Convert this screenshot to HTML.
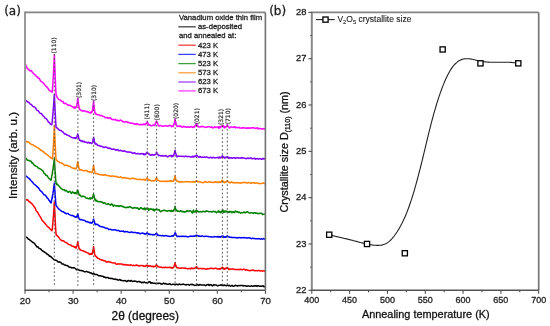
<!DOCTYPE html>
<html><head><meta charset="utf-8"><title>XRD and crystallite size</title>
<style>
html,body{margin:0;padding:0;background:#fff;}
body{width:550px;height:326px;overflow:hidden;}
svg{display:block;font-family:"Liberation Sans",Arial,sans-serif;filter:blur(0.35px);}
text{paint-order:stroke;stroke-width:0.3px;stroke:#222;stroke-linejoin:round;}
.pk text{stroke-width:0.2px;}
</style></head>
<body>
<svg width="550" height="326" viewBox="0 0 550 326">
<rect width="550" height="326" fill="#fff"/>
<g fill="none" stroke-width="1.5" stroke-linejoin="round" stroke-linecap="round">
<path d="M25.0,236.74 25.5,237.03 26.0,237.14 26.5,237.26 27.0,237.55 27.5,237.94 28.0,238.69 28.5,239.29 29.0,239.31 29.5,239.56 30.0,240.21 30.5,240.69 31.0,240.87 31.5,241.10 32.0,241.76 32.5,242.28 33.0,242.45 33.5,242.74 34.0,243.07 34.5,243.50 35.0,244.18 35.5,244.92 36.0,245.57 36.5,246.32 37.0,246.90 37.5,246.89 38.0,246.87 38.5,247.53 39.0,248.33 39.5,248.57 40.0,248.63 40.5,248.96 41.0,249.33 41.5,249.90 42.0,250.51 42.5,250.70 43.0,251.12 43.5,251.63 44.0,251.77 44.5,252.08 45.0,252.54 45.5,252.73 46.0,252.90 46.5,253.60 47.0,254.09 47.5,254.15 48.0,254.66 48.5,255.04 49.0,255.45 49.5,256.27 50.0,256.39 50.5,256.25 51.0,256.79 51.5,257.40 52.0,257.79 52.5,258.23 53.0,258.64 53.5,259.24 54.0,259.64 54.5,259.65 55.0,259.86 55.5,260.20 56.0,260.38 56.5,260.47 57.0,260.77 57.5,261.36 58.0,262.00 58.5,262.11 59.0,261.78 59.5,262.01 60.0,262.35 60.5,262.28 61.0,262.63 61.5,263.37 62.0,263.96 62.5,264.10 63.0,263.98 63.5,264.08 64.0,264.59 64.5,265.06 65.0,265.01 65.5,265.09 66.0,265.44 66.5,265.60 67.0,265.59 67.5,265.68 68.0,266.00 68.5,266.45 69.0,266.95 69.5,267.13 70.0,267.15 70.5,267.30 71.0,267.49 71.5,267.77 72.0,267.93 72.5,267.87 73.0,267.83 73.5,267.92 74.0,267.71 74.5,267.75 75.0,268.26 75.5,268.65 76.0,269.32 76.5,269.78 77.0,269.41 77.5,269.31 78.0,269.77 78.5,270.02 79.0,270.02 79.5,270.19 80.0,270.56 80.5,270.57 81.0,270.39 81.5,270.59 82.0,270.74 82.5,270.78 83.0,270.97 83.5,271.23 84.0,271.60 84.5,271.76 85.0,271.65 85.5,271.64 86.0,271.54 86.5,271.33 87.0,271.62 87.5,271.91 88.0,271.95 88.5,272.17 89.0,272.31 89.5,272.53 90.0,272.78 90.5,273.04 91.0,272.99 91.5,272.97 92.0,273.68 92.5,274.06 93.0,273.80 93.5,273.71 94.0,273.76 94.5,274.00 95.0,274.39 95.5,274.46 96.0,274.43 96.5,274.48 97.0,274.50 97.5,274.85 98.0,275.42 98.5,275.69 99.0,275.82 99.5,275.76 100.0,275.63 100.5,275.75 101.0,275.97 101.5,276.19 102.0,276.32 102.5,276.29 103.0,276.24 103.5,276.73 104.0,277.31 104.5,277.10 105.0,277.00 105.5,277.62 106.0,277.84 106.5,277.49 107.0,277.50 107.5,277.51 108.0,277.59 108.5,278.11 109.0,278.36 109.5,278.26 110.0,278.30 110.5,278.47 111.0,278.51 111.5,278.43 112.0,278.29 112.5,278.56 113.0,279.08 113.5,279.11 114.0,279.11 114.5,279.15 115.0,279.05 115.5,279.21 116.0,279.46 116.5,279.45 117.0,279.46 117.5,279.75 118.0,280.09 118.5,280.14 119.0,279.92 119.5,279.57 120.0,279.60 120.5,280.20 121.0,280.43 121.5,280.29 122.0,280.42 122.5,280.64 123.0,280.76 123.5,280.66 124.0,280.63 124.5,280.66 125.0,280.52 125.5,280.73 126.0,281.03 126.5,281.28 127.0,281.61 127.5,281.34 128.0,280.54 128.5,280.43 129.0,280.85 129.5,280.89 130.0,281.08 130.5,281.17 131.0,280.59 131.5,280.50 132.0,281.12 132.5,281.40 133.0,281.38 133.5,281.35 134.0,281.10 134.5,281.03 135.0,281.25 135.5,281.17 136.0,281.22 136.5,281.69 137.0,281.95 137.5,281.85 138.0,281.63 138.5,281.53 139.0,281.54 139.5,281.72 140.0,281.94 140.5,282.02 141.0,282.24 141.5,282.67 142.0,282.71 142.5,282.35 143.0,282.42 143.5,282.52 144.0,282.24 144.5,282.04 145.0,282.32 145.5,282.71 146.0,282.71 146.5,282.63 147.0,282.78 147.5,283.01 148.0,282.62 148.5,282.10 149.0,282.08 149.5,281.79 150.0,281.68 150.5,282.54 151.0,283.28 151.5,283.05 152.0,282.61 152.5,282.82 153.0,283.32 153.5,283.36 154.0,283.21 154.5,283.22 155.0,283.37 155.5,283.59 156.0,283.61 156.5,283.34 157.0,283.19 157.5,283.31 158.0,283.47 158.5,283.50 159.0,283.28 159.5,283.31 160.0,283.35 160.5,283.45 161.0,284.10 161.5,284.21 162.0,283.84 162.5,283.89 163.0,283.57 163.5,283.11 164.0,283.47 164.5,283.82 165.0,283.69 165.5,283.52 166.0,283.63 166.5,283.97 167.0,284.27 167.5,284.20 168.0,284.23 168.5,284.34 169.0,284.03 169.5,283.61 170.0,283.73 170.5,284.41 171.0,284.73 171.5,284.62 172.0,284.49 172.5,284.34 173.0,284.25 173.5,284.16 174.0,284.17 174.5,284.47 175.0,284.79 175.5,284.67 176.0,284.31 176.5,284.10 177.0,284.34 177.5,284.81 178.0,284.78 178.5,284.47 179.0,284.20 179.5,284.10 180.0,284.42 180.5,284.67 181.0,284.48 181.5,284.37 182.0,284.45 182.5,284.32 183.0,284.10 183.5,284.17 184.0,284.43 184.5,284.61 185.0,284.59 185.5,284.88 186.0,285.08 186.5,284.68 187.0,284.46 187.5,284.63 188.0,284.56 188.5,284.47 189.0,284.95 189.5,285.28 190.0,284.88 190.5,284.48 191.0,284.45 191.5,284.51 192.0,284.29 192.5,284.45 193.0,284.84 193.5,284.85 194.0,285.16 194.5,285.39 195.0,285.16 195.5,285.26 196.0,285.40 196.5,284.96 197.0,284.46 197.5,284.40 198.0,284.89 198.5,285.41 199.0,285.22 199.5,284.64 200.0,284.47 200.5,284.70 201.0,284.91 201.5,284.95 202.0,285.02 202.5,285.03 203.0,284.92 203.5,284.95 204.0,285.03 204.5,285.08 205.0,285.40 205.5,285.69 206.0,285.46 206.5,284.91 207.0,284.65 207.5,284.68 208.0,284.40 208.5,284.55 209.0,285.24 209.5,285.41 210.0,284.95 210.5,284.60 211.0,284.72 211.5,285.01 212.0,285.56 212.5,285.92 213.0,285.46 213.5,284.86 214.0,284.78 214.5,285.03 215.0,285.03 215.5,284.93 216.0,284.98 216.5,285.13 217.0,285.58 217.5,285.89 218.0,285.69 218.5,285.41 219.0,285.39 219.5,285.33 220.0,285.19 220.5,285.04 221.0,284.78 221.5,284.93 222.0,285.40 222.5,285.50 223.0,285.60 223.5,285.51 224.0,285.01 224.5,285.03 225.0,285.47 225.5,285.57 226.0,285.59 226.5,285.77 227.0,285.56 227.5,285.10 228.0,285.24 228.5,285.72 229.0,285.55 229.5,285.31 230.0,285.79 230.5,286.14 231.0,286.02 231.5,285.67 232.0,285.36 232.5,285.66 233.0,286.19 233.5,286.20 234.0,286.02 234.5,285.77 235.0,285.45 235.5,285.24 236.0,285.54 236.5,285.80 237.0,285.71 237.5,285.95 238.0,285.89 238.5,285.50 239.0,285.47 239.5,285.63 240.0,285.69 240.5,285.59 241.0,285.53 241.5,285.54 242.0,285.39 242.5,285.40 243.0,285.85 243.5,285.96 244.0,285.65 244.5,285.66 245.0,285.66 245.5,285.74 246.0,286.03 246.5,286.19 247.0,286.26 247.5,286.08 248.0,286.02 248.5,285.95 249.0,285.92 249.5,286.12 250.0,286.22 250.5,286.25 251.0,286.05 251.5,285.82 252.0,285.98 252.5,286.30 253.0,286.32 253.5,286.07 254.0,285.83 254.5,285.83 255.0,286.02 255.5,285.79 256.0,285.60 256.5,286.16 257.0,286.37 257.5,285.88 258.0,285.70 258.5,285.81 259.0,285.98 259.5,286.19 260.0,286.09 260.5,286.15 261.0,286.35 261.5,286.34 262.0,286.30 262.5,286.06 263.0,285.73 263.5,286.04 264.0,286.69 264.5,286.69 265.0,286.52" stroke="#000000"/>
<path d="M25.0,198.71 25.5,199.02 26.0,199.51 26.5,199.90 27.0,199.79 27.5,199.80 28.0,200.20 28.5,200.79 29.0,201.58 29.5,202.03 30.0,202.06 30.5,202.33 31.0,203.11 31.5,203.61 32.0,203.77 32.5,204.39 33.0,205.19 33.5,205.88 34.0,206.49 34.5,207.15 35.0,207.91 35.5,209.01 36.0,210.35 36.5,211.18 37.0,211.65 37.5,212.14 38.0,212.85 38.5,213.88 39.0,214.90 39.5,215.72 40.0,216.40 40.5,217.10 41.0,218.00 41.5,219.02 42.0,220.10 42.5,220.87 43.0,221.16 43.5,221.58 44.0,222.27 44.5,222.85 45.0,223.46 45.5,224.08 46.0,224.68 46.5,225.38 47.0,225.96 47.5,226.42 48.0,226.82 48.5,227.16 49.0,227.66 49.5,228.28 50.0,228.90 50.4,229.41 50.5,229.41 50.6,229.40 50.9,229.65 51.0,229.68 51.1,229.85 51.4,230.02 51.5,230.00 51.6,230.37 51.9,230.74 52.0,230.73 52.1,229.84 52.4,227.74 52.5,226.76 52.6,225.31 52.9,222.64 53.0,221.45 53.1,219.57 53.4,216.48 53.5,215.22 53.6,213.03 53.9,209.41 54.0,207.87 54.1,205.52 54.4,202.10 54.5,204.49 54.6,207.83 54.9,213.30 55.0,215.31 55.1,218.55 55.4,223.73 55.5,225.64 55.6,228.06 55.9,231.82 56.0,233.44 56.1,234.83 56.4,235.16 56.5,234.95 56.6,234.98 56.9,235.53 57.0,235.46 57.5,235.81 58.0,236.58 58.5,237.11 59.0,237.58 59.5,238.44 60.0,239.18 60.5,239.51 61.0,239.97 61.5,240.64 62.0,240.88 62.5,240.79 63.0,240.76 63.5,240.85 64.0,241.22 64.5,241.74 65.0,242.07 65.5,242.36 66.0,242.61 66.5,242.70 67.0,243.04 67.5,243.56 68.0,243.96 68.5,244.29 69.0,244.44 69.5,244.61 70.0,244.85 70.5,244.88 71.0,245.13 71.5,245.73 72.0,246.14 72.5,246.20 73.0,246.22 73.5,246.48 73.8,246.66 74.0,246.52 74.0,246.43 74.3,246.89 74.5,247.34 74.5,247.28 74.8,247.17 75.0,247.33 75.0,247.20 75.3,246.91 75.5,247.21 75.5,247.63 75.8,247.89 76.0,248.10 76.0,248.01 76.3,247.56 76.5,247.12 76.5,246.97 76.8,246.06 77.0,245.39 77.0,245.54 77.3,244.53 77.5,243.26 77.5,242.85 77.8,241.78 78.0,243.08 78.0,243.36 78.3,244.73 78.5,245.55 78.5,245.71 78.8,247.05 79.0,248.06 79.0,248.13 79.3,248.44 79.5,248.83 79.5,249.10 79.8,249.10 80.0,249.20 80.0,249.60 80.3,249.89 80.5,249.84 81.0,250.05 81.5,250.37 82.0,250.64 82.5,250.81 83.0,250.78 83.5,250.92 84.0,251.26 84.5,251.54 85.0,251.90 85.5,252.05 86.0,252.09 86.5,252.33 87.0,252.68 87.5,252.94 88.0,252.97 88.5,253.22 89.0,253.86 89.5,254.39 89.6,254.29 89.8,253.99 90.0,254.01 90.1,254.16 90.3,253.96 90.5,253.78 90.6,253.98 90.8,254.10 91.0,253.84 91.1,253.60 91.3,253.84 91.5,254.17 91.6,254.18 91.8,254.24 92.0,254.27 92.1,254.12 92.3,253.39 92.5,252.79 92.6,252.25 92.8,250.98 93.0,250.32 93.1,250.00 93.3,248.40 93.5,247.25 93.6,246.65 93.8,248.53 94.0,249.52 94.1,249.87 94.3,251.36 94.5,252.68 94.6,253.68 94.8,254.67 95.0,254.93 95.1,255.44 95.3,256.09 95.5,255.86 95.6,255.84 95.8,256.26 96.0,256.42 96.1,256.35 96.5,256.74 97.0,257.58 97.5,258.16 98.0,258.40 98.5,258.46 99.0,258.53 99.5,258.97 100.0,259.38 100.5,259.68 101.0,259.91 101.5,259.80 102.0,259.83 102.5,260.19 103.0,260.40 103.5,260.51 104.0,260.69 104.5,260.67 105.0,260.81 105.5,261.36 106.0,261.74 106.5,262.03 107.0,262.22 107.5,261.85 108.0,261.50 108.5,261.58 109.0,261.79 109.5,262.06 110.0,262.14 110.5,262.12 111.0,262.30 111.5,262.44 112.0,262.67 112.5,262.85 113.0,262.88 113.5,262.95 114.0,262.96 114.5,262.88 115.0,262.91 115.5,263.40 116.0,264.04 116.5,264.27 117.0,264.16 117.5,263.91 118.0,263.86 118.5,264.07 119.0,264.05 119.5,263.94 120.0,264.00 120.5,264.07 121.0,264.10 121.5,264.09 122.0,264.05 122.5,264.42 123.0,264.85 123.5,264.68 124.0,264.55 124.5,264.75 125.0,264.74 125.5,264.53 126.0,264.70 126.5,265.00 127.0,265.01 127.5,265.11 128.0,265.20 128.5,265.02 129.0,264.93 129.5,265.13 130.0,265.17 130.5,264.85 131.0,264.82 131.5,265.13 132.0,265.42 132.5,265.64 133.0,265.53 133.5,265.28 134.0,265.38 134.5,265.40 135.0,265.38 135.5,265.47 136.0,265.22 136.5,265.04 137.0,265.19 137.5,265.25 138.0,265.44 138.5,265.76 139.0,266.00 139.5,266.11 140.0,265.77 140.5,265.44 141.0,265.47 141.5,265.52 142.0,265.64 142.5,265.86 143.0,265.71 143.2,265.61 143.4,265.95 143.5,266.10 143.7,266.10 143.9,266.16 144.0,266.19 144.2,266.25 144.4,266.37 144.5,266.32 144.7,266.25 144.9,266.07 145.0,265.83 145.2,265.90 145.4,266.04 145.5,265.96 145.7,265.95 145.9,266.15 146.0,266.00 146.2,265.45 146.4,265.23 146.5,265.46 146.7,265.46 146.9,265.28 147.0,265.28 147.2,265.20 147.4,265.43 147.5,265.40 147.7,265.66 147.9,266.27 148.0,266.36 148.2,265.98 148.4,265.83 148.5,266.00 148.7,266.18 148.9,266.11 149.0,266.11 149.2,266.21 149.4,266.09 149.5,266.05 149.7,266.00 150.0,265.81 150.5,265.92 151.0,266.28 151.5,266.49 152.0,266.35 152.5,266.16 152.8,266.40 153.0,266.77 153.2,266.79 153.5,266.57 153.8,266.51 154.0,266.62 154.2,266.47 154.5,266.27 154.8,266.44 155.0,266.65 155.2,266.51 155.5,266.13 155.8,265.72 156.0,265.32 156.2,264.80 156.5,264.60 156.8,265.43 157.0,265.65 157.2,265.66 157.5,266.01 157.8,266.53 158.0,266.82 158.2,266.63 158.5,266.45 158.8,266.68 159.0,266.92 159.5,267.13 160.0,267.32 160.5,267.32 161.0,267.16 161.5,267.06 162.0,267.41 162.5,267.75 163.0,267.59 163.5,267.37 164.0,267.49 164.5,267.56 165.0,267.29 165.5,267.27 166.0,267.52 166.5,267.54 167.0,267.44 167.5,267.44 168.0,267.46 168.5,267.48 169.0,267.39 169.5,267.30 170.0,267.54 170.5,267.66 171.0,267.47 171.1,267.53 171.3,267.62 171.5,267.49 171.6,267.44 171.8,267.54 172.0,267.98 172.1,268.40 172.3,268.24 172.5,267.86 172.6,267.76 172.8,267.72 173.0,267.79 173.1,267.78 173.3,267.44 173.5,267.34 173.6,267.35 173.8,266.96 174.0,266.45 174.1,266.01 174.3,265.49 174.5,265.17 174.6,264.81 174.8,263.92 175.0,263.11 175.1,262.67 175.3,263.93 175.5,264.64 175.6,264.83 175.8,265.63 176.0,266.10 176.1,266.13 176.3,266.57 176.5,267.09 176.6,267.34 176.8,267.57 177.0,267.78 177.1,267.67 177.3,267.67 177.5,267.98 177.6,267.83 178.0,267.59 178.5,267.83 179.0,268.25 179.5,268.29 180.0,268.11 180.5,268.17 181.0,268.20 181.5,268.08 182.0,268.12 182.5,268.11 183.0,267.99 183.5,268.03 184.0,268.16 184.5,268.16 185.0,268.07 185.5,268.21 186.0,268.45 186.5,268.51 187.0,268.60 187.5,268.68 188.0,268.78 188.5,268.76 189.0,268.48 189.5,268.40 190.0,268.57 190.5,268.89 191.0,268.72 191.5,268.08 192.0,268.09 192.5,268.53 192.8,268.72 193.0,268.64 193.2,268.53 193.5,268.58 193.8,268.60 194.0,268.58 194.2,268.40 194.5,268.11 194.8,268.10 195.0,268.14 195.2,268.10 195.5,267.81 195.8,267.48 196.0,267.31 196.2,266.94 196.5,266.50 196.8,266.77 197.0,267.32 197.2,267.87 197.5,268.13 197.8,268.26 198.0,268.44 198.2,268.48 198.5,268.52 198.8,268.73 199.0,268.77 199.5,268.57 200.0,268.47 200.5,268.54 201.0,268.51 201.5,268.54 202.0,268.70 202.5,268.70 203.0,268.61 203.5,268.56 204.0,268.68 204.5,268.73 205.0,268.83 205.5,269.07 206.0,269.14 206.5,269.18 207.0,269.00 207.5,268.62 208.0,268.61 208.5,268.77 209.0,268.78 209.5,268.71 210.0,268.49 210.5,268.32 211.0,268.29 211.5,268.31 212.0,268.53 212.5,268.57 213.0,268.52 213.5,268.68 214.0,268.66 214.5,268.34 215.0,268.18 215.5,268.19 216.0,268.18 216.5,268.56 217.0,268.92 217.5,268.82 218.0,268.70 218.3,268.64 218.5,268.71 218.6,268.78 218.8,268.83 219.0,269.10 219.1,269.25 219.3,269.05 219.5,268.77 219.6,268.70 219.8,268.81 220.0,268.91 220.1,268.95 220.3,269.06 220.5,268.92 220.6,268.51 220.8,268.49 221.0,268.66 221.1,268.46 221.3,268.12 221.5,267.91 221.6,267.85 221.8,268.03 222.0,268.32 222.1,268.01 222.3,267.20 222.5,267.28 222.6,267.59 222.8,268.00 223.0,267.98 223.1,268.03 223.2,268.49 223.3,268.60 223.4,268.39 223.5,268.11 223.6,268.07 223.7,268.14 223.8,268.27 223.9,268.65 224.0,268.80 224.1,269.04 224.2,269.40 224.3,269.18 224.4,268.86 224.5,269.06 224.6,269.13 224.7,268.76 224.8,268.62 224.9,268.62 225.0,268.71 225.2,268.79 225.4,268.41 225.5,268.35 225.7,268.57 225.9,268.57 226.0,268.63 226.2,268.50 226.4,268.35 226.5,268.20 226.7,267.71 226.9,267.49 227.0,267.60 227.2,267.50 227.4,267.76 227.5,267.62 227.7,267.92 227.9,268.43 228.0,268.43 228.2,268.63 228.4,269.28 228.5,269.27 228.7,268.84 228.9,269.15 229.0,269.61 229.2,269.47 229.4,269.16 229.5,268.99 229.7,268.93 230.0,268.94 230.5,269.06 231.0,269.20 231.5,269.12 232.0,268.94 232.5,268.92 233.0,269.01 233.5,269.05 234.0,269.26 234.5,269.53 235.0,269.55 235.5,269.52 236.0,269.50 236.5,269.43 237.0,269.37 237.5,269.44 238.0,269.48 238.5,269.48 239.0,269.68 239.5,269.61 240.0,269.37 240.5,269.35 241.0,269.45 241.5,269.54 242.0,269.66 242.5,269.78 243.0,269.46 243.5,269.16 244.0,269.22 244.5,269.34 245.0,269.75 245.5,270.15 246.0,270.01 246.5,269.66 247.0,269.86 247.5,270.32 248.0,270.28 248.5,270.21 249.0,270.56 249.5,270.86 250.0,270.69 250.5,270.39 251.0,270.38 251.5,270.37 252.0,270.14 252.5,270.07 253.0,270.18 253.5,270.22 254.0,270.35 254.5,270.73 255.0,270.91 255.5,270.60 256.0,270.46 256.5,270.62 257.0,270.84 257.5,270.91 258.0,270.66 258.5,270.40 259.0,270.31 259.5,270.56 260.0,270.91 260.5,270.89 261.0,270.74 261.5,270.84 262.0,271.07 262.5,271.14 263.0,271.04 263.5,270.88 264.0,270.71 264.5,271.01 265.0,271.51" stroke="#ff0000"/>
<path d="M25.0,174.99 25.5,175.55 26.0,176.16 26.5,176.47 27.0,176.82 27.5,177.33 28.0,177.83 28.5,178.09 29.0,178.36 29.5,178.89 30.0,179.40 30.5,179.92 31.0,180.60 31.5,181.24 32.0,181.70 32.5,182.10 33.0,182.76 33.5,183.44 34.0,183.99 34.5,184.43 35.0,184.70 35.5,185.18 36.0,185.69 36.5,186.06 37.0,186.61 37.5,187.17 38.0,187.56 38.5,187.95 39.0,188.61 39.5,189.47 40.0,190.26 40.5,190.82 41.0,191.19 41.5,191.57 42.0,192.11 42.5,192.76 43.0,193.37 43.5,194.09 44.0,194.73 44.5,194.90 45.0,195.06 45.5,195.51 46.0,196.01 46.5,196.76 47.0,197.67 47.5,198.12 48.0,198.51 48.5,199.41 49.0,200.28 49.5,200.85 50.0,201.46 50.4,202.00 50.5,202.26 50.6,202.54 50.9,202.85 51.0,202.96 51.1,202.66 51.4,201.80 51.5,201.12 51.6,200.16 51.9,199.11 52.0,198.76 52.1,198.03 52.4,196.76 52.5,196.05 52.6,195.20 52.9,194.00 53.0,193.42 53.1,192.37 53.4,190.79 53.5,190.12 53.6,188.69 53.9,186.44 54.0,185.79 54.1,184.83 54.4,183.12 54.5,184.89 54.6,187.33 54.9,190.89 55.0,192.41 55.1,194.88 55.4,198.10 55.5,199.18 55.6,201.23 55.9,204.02 56.0,204.89 56.1,205.70 56.4,205.87 56.5,205.89 56.6,206.28 56.9,206.65 57.0,206.65 57.5,207.24 58.0,208.08 58.5,208.80 59.0,209.16 59.5,209.59 60.0,209.97 60.5,210.29 61.0,210.78 61.5,211.24 62.0,211.54 62.5,211.61 63.0,211.64 63.5,211.91 64.0,212.36 64.5,212.77 65.0,213.06 65.5,213.25 66.0,213.54 66.5,213.77 67.0,213.63 67.5,213.44 68.0,213.51 68.5,213.93 69.0,214.40 69.5,214.59 70.0,214.85 70.5,215.19 71.0,215.44 71.5,215.50 72.0,215.43 72.5,215.54 73.0,215.80 73.5,216.00 73.8,216.08 74.0,216.35 74.0,216.42 74.3,216.29 74.5,216.35 74.5,216.44 74.8,216.73 75.0,216.98 75.0,216.98 75.3,216.97 75.5,216.98 75.5,217.12 75.8,217.29 76.0,217.40 76.0,217.21 76.3,216.76 76.5,216.72 76.5,217.10 76.8,216.89 77.0,216.35 77.0,215.97 77.3,215.27 77.5,215.07 77.5,215.08 77.8,214.02 78.0,214.52 78.0,214.68 78.3,216.16 78.5,217.27 78.5,217.31 78.8,217.98 79.0,218.32 79.0,218.32 79.3,218.89 79.5,219.02 79.5,219.07 79.8,219.43 80.0,219.64 80.0,219.63 80.3,219.60 80.5,219.43 81.0,219.56 81.5,219.86 82.0,219.96 82.5,219.95 83.0,220.12 83.5,220.29 84.0,220.31 84.5,220.40 85.0,220.69 85.5,221.15 86.0,221.65 86.5,221.80 87.0,221.56 87.5,221.70 88.0,222.11 88.5,222.21 89.0,222.44 89.5,222.76 89.6,222.54 89.8,222.29 90.0,222.38 90.1,222.68 90.3,222.75 90.5,222.53 90.6,222.61 90.8,222.98 91.0,223.05 91.1,222.98 91.3,223.15 91.5,223.07 91.6,222.81 91.8,222.96 92.0,223.06 92.1,222.71 92.3,222.14 92.5,222.11 92.6,222.29 92.8,221.52 93.0,220.88 93.1,220.73 93.3,219.80 93.5,219.31 93.6,219.16 93.8,220.10 94.0,220.43 94.1,220.69 94.3,221.70 94.5,221.97 94.6,222.31 94.8,223.58 95.0,224.10 95.1,224.06 95.3,224.20 95.5,224.46 95.6,224.73 95.8,224.70 96.0,224.38 96.1,224.17 96.5,224.24 97.0,224.22 97.5,224.50 98.0,224.97 98.5,225.21 99.0,225.47 99.5,225.93 100.0,226.42 100.5,226.56 101.0,226.56 101.5,226.68 102.0,226.67 102.5,226.88 103.0,227.13 103.5,227.14 104.0,227.22 104.5,227.43 105.0,227.90 105.5,228.26 106.0,228.23 106.5,228.25 107.0,228.28 107.5,228.27 108.0,228.61 108.5,229.28 109.0,229.62 109.5,229.38 110.0,229.24 110.5,229.40 111.0,229.54 111.5,229.71 112.0,229.81 112.5,229.89 113.0,229.94 113.5,229.86 114.0,229.76 114.5,229.74 115.0,229.85 115.5,229.98 116.0,230.13 116.5,230.27 117.0,230.49 117.5,230.56 118.0,230.39 118.5,230.39 119.0,230.64 119.5,231.08 120.0,231.39 120.5,231.29 121.0,231.23 121.5,231.25 122.0,231.21 122.5,231.36 123.0,231.12 123.5,231.10 124.0,231.83 124.5,231.95 125.0,231.57 125.5,231.58 126.0,231.70 126.5,231.64 127.0,231.51 127.5,231.67 128.0,231.97 128.5,232.17 129.0,232.27 129.5,232.42 130.0,232.50 130.5,232.30 131.0,232.06 131.5,231.87 132.0,232.07 132.5,232.44 133.0,232.44 133.5,232.50 134.0,232.49 134.5,232.38 135.0,232.45 135.5,232.54 136.0,232.69 136.5,232.95 137.0,232.99 137.5,232.79 138.0,232.78 138.5,232.98 139.0,233.17 139.5,233.52 140.0,233.80 140.5,233.60 141.0,233.33 141.5,233.22 142.0,233.13 142.5,233.10 143.0,233.19 143.2,233.30 143.4,233.48 143.5,233.58 143.7,233.52 143.9,233.39 144.0,233.49 144.2,233.82 144.4,234.01 144.5,234.05 144.7,234.07 144.9,233.97 145.0,233.81 145.2,234.02 145.4,234.10 145.5,233.79 145.7,233.88 145.9,233.99 146.0,233.83 146.2,233.75 146.4,233.58 146.5,233.36 146.7,233.15 146.9,232.89 147.0,232.79 147.2,232.74 147.4,233.06 147.5,233.22 147.7,233.29 147.9,233.48 148.0,233.88 148.2,234.13 148.4,234.03 148.5,233.85 148.7,233.96 148.9,234.19 149.0,234.05 149.2,233.93 149.4,234.40 149.5,234.59 149.7,234.21 150.0,234.28 150.5,234.45 151.0,234.50 151.5,234.56 152.0,234.42 152.5,234.61 152.8,234.85 153.0,234.67 153.2,234.56 153.5,234.62 153.8,234.77 154.0,234.88 154.2,234.81 154.5,234.74 154.8,234.66 155.0,234.65 155.2,234.31 155.5,233.85 155.8,233.77 156.0,233.61 156.2,233.53 156.5,233.42 156.8,233.47 157.0,233.80 157.2,234.45 157.5,234.85 157.8,235.13 158.0,235.13 158.2,235.03 158.5,235.28 158.8,235.60 159.0,235.61 159.5,235.49 160.0,235.45 160.5,235.44 161.0,235.62 161.5,235.90 162.0,235.72 162.5,235.44 163.0,235.60 163.5,235.90 164.0,235.96 164.5,235.79 165.0,235.71 165.5,235.67 166.0,235.48 166.5,235.61 167.0,235.94 167.5,236.00 168.0,236.14 168.5,236.34 169.0,236.28 169.5,236.33 170.0,236.54 170.5,236.39 171.0,236.19 171.1,236.27 171.3,236.20 171.5,236.03 171.6,236.07 171.8,235.95 172.0,235.77 172.1,235.92 172.3,236.05 172.5,235.90 172.6,235.78 172.8,235.93 173.0,236.11 173.1,236.04 173.3,235.88 173.5,235.78 173.6,235.59 173.8,235.40 174.0,235.34 174.1,234.95 174.3,234.45 174.5,234.29 174.6,233.94 174.8,233.27 175.0,233.07 175.1,232.73 175.3,232.97 175.5,233.29 175.6,233.62 175.8,234.19 176.0,234.54 176.1,234.86 176.3,235.40 176.5,235.61 176.6,235.84 176.8,236.14 177.0,236.13 177.1,236.35 177.3,236.61 177.5,236.43 177.6,236.20 178.0,236.17 178.5,236.19 179.0,236.40 179.5,236.47 180.0,236.28 180.5,236.37 181.0,236.52 181.5,236.41 182.0,236.28 182.5,236.15 183.0,236.10 183.5,236.41 184.0,236.69 184.5,236.46 185.0,236.21 185.5,236.23 186.0,236.37 186.5,236.51 187.0,236.66 187.5,236.79 188.0,236.74 188.5,236.69 189.0,236.62 189.5,236.39 190.0,236.18 190.5,236.23 191.0,236.34 191.5,236.15 192.0,236.06 192.5,236.31 192.8,236.35 193.0,236.24 193.2,236.27 193.5,236.34 193.8,236.30 194.0,236.09 194.2,236.10 194.5,236.30 194.8,236.25 195.0,236.02 195.2,235.78 195.5,235.62 195.8,235.66 196.0,235.54 196.2,235.27 196.5,235.25 196.8,235.46 197.0,235.49 197.2,235.61 197.5,235.48 197.8,235.44 198.0,235.72 198.2,236.03 198.5,236.18 198.8,236.25 199.0,236.15 199.5,236.06 200.0,236.17 200.5,236.14 201.0,236.14 201.5,236.19 202.0,236.07 202.5,236.01 203.0,236.15 203.5,236.42 204.0,236.62 204.5,236.54 205.0,236.30 205.5,236.20 206.0,236.32 206.5,236.35 207.0,236.33 207.5,236.55 208.0,236.52 208.5,236.43 209.0,236.67 209.5,236.85 210.0,236.86 210.5,236.86 211.0,236.87 211.5,237.00 212.0,237.00 212.5,236.91 213.0,236.97 213.5,236.89 214.0,236.69 214.5,236.58 215.0,236.71 215.5,236.78 216.0,236.70 216.5,236.85 217.0,236.98 217.5,236.74 218.0,236.49 218.3,236.72 218.5,236.92 218.6,236.81 218.8,236.63 219.0,236.54 219.1,236.74 219.3,236.92 219.5,236.83 219.6,236.72 219.8,236.85 220.0,237.00 220.1,236.95 220.3,236.77 220.5,236.90 220.6,237.15 220.8,236.81 221.0,236.53 221.1,236.53 221.3,236.52 221.5,236.78 221.6,236.83 221.8,236.21 222.0,235.94 222.1,236.32 222.3,236.37 222.5,236.49 222.6,236.38 222.8,236.30 223.0,236.27 223.1,236.15 223.2,236.34 223.3,236.66 223.4,236.92 223.5,237.13 223.6,236.96 223.7,236.83 223.8,237.15 223.9,237.38 224.0,237.11 224.1,236.84 224.2,237.09 224.3,237.25 224.4,237.00 224.5,236.94 224.6,237.16 224.7,237.06 224.8,236.83 224.9,236.82 225.0,236.91 225.2,237.05 225.4,237.17 225.5,237.29 225.7,237.06 225.9,236.71 226.0,236.87 226.2,237.00 226.4,236.89 226.5,236.78 226.7,236.40 226.9,236.20 227.0,236.28 227.2,235.87 227.4,235.97 227.5,236.31 227.7,236.46 227.9,236.46 228.0,236.34 228.2,236.39 228.4,236.63 228.5,236.87 228.7,236.91 228.9,236.86 229.0,237.00 229.2,236.97 229.4,236.99 229.5,237.24 229.7,237.15 230.0,237.14 230.5,237.39 231.0,237.33 231.5,237.30 232.0,237.52 232.5,237.58 233.0,237.51 233.5,237.47 234.0,237.48 234.5,237.51 235.0,237.40 235.5,237.52 236.0,237.83 236.5,237.76 237.0,237.79 237.5,238.00 238.0,237.78 238.5,237.57 239.0,237.59 239.5,237.61 240.0,237.88 240.5,237.96 241.0,237.67 241.5,237.60 242.0,237.75 242.5,237.72 243.0,237.69 243.5,237.67 244.0,237.52 244.5,237.60 245.0,237.78 245.5,237.88 246.0,237.88 246.5,237.85 247.0,237.99 247.5,237.99 248.0,237.81 248.5,237.68 249.0,237.81 249.5,238.01 250.0,238.03 250.5,238.20 251.0,238.49 251.5,238.65 252.0,238.60 252.5,238.28 253.0,238.19 253.5,238.45 254.0,238.61 254.5,238.62 255.0,238.63 255.5,238.73 256.0,238.79 256.5,238.75 257.0,238.72 257.5,238.70 258.0,238.68 258.5,238.76 259.0,238.79 259.5,238.82 260.0,238.95 260.5,238.95 261.0,238.92 261.5,238.84 262.0,238.95 262.5,239.16 263.0,238.89 263.5,238.60 264.0,238.67 264.5,239.04 265.0,239.35" stroke="#0000ff"/>
<path d="M25.0,157.75 25.5,158.14 26.0,158.24 26.5,158.86 27.0,159.84 27.5,160.24 28.0,160.13 28.5,160.44 29.0,160.64 29.5,160.59 30.0,161.00 30.5,161.06 31.0,161.16 31.5,162.24 32.0,162.98 32.5,162.83 33.0,163.25 33.5,164.33 34.0,164.95 34.5,165.49 35.0,165.83 35.5,165.83 36.0,166.16 36.5,166.42 37.0,166.65 37.5,167.04 38.0,167.62 38.5,168.22 39.0,168.35 39.5,168.39 40.0,168.77 40.5,169.12 41.0,169.23 41.5,169.64 42.0,170.21 42.5,170.64 43.0,171.09 43.5,171.97 44.0,173.23 44.5,173.81 45.0,173.78 45.5,174.37 46.0,175.29 46.5,175.46 47.0,175.55 47.5,176.16 48.0,177.05 48.5,177.83 49.0,178.54 49.5,179.11 50.0,179.23 50.4,179.30 50.5,179.57 50.6,180.01 50.9,179.93 51.0,179.86 51.1,179.97 51.4,178.89 51.5,177.76 51.6,176.69 51.9,175.42 52.0,175.20 52.1,174.49 52.4,172.78 52.5,172.04 52.6,171.07 52.9,169.58 53.0,169.50 53.1,168.44 53.4,165.90 53.5,165.15 53.6,164.44 53.9,162.56 54.0,161.58 54.1,160.32 54.4,158.71 54.5,160.73 54.6,163.26 54.9,167.27 55.0,168.92 55.1,170.91 55.4,174.43 55.5,176.33 55.6,178.53 55.9,181.46 56.0,182.84 56.1,183.53 56.4,183.11 56.5,183.36 56.6,184.46 56.9,184.77 57.0,183.98 57.5,184.16 58.0,184.96 58.5,185.54 59.0,186.07 59.5,186.77 60.0,187.07 60.5,187.63 61.0,188.45 61.5,188.64 62.0,188.96 62.5,189.60 63.0,189.81 63.5,189.69 64.0,189.64 64.5,190.06 65.0,190.84 65.5,190.76 66.0,190.29 66.5,190.69 67.0,191.30 67.5,191.77 68.0,192.32 68.5,192.21 69.0,191.65 69.5,191.39 70.0,191.47 70.5,191.96 71.0,192.84 71.5,193.44 72.0,192.68 72.5,191.79 73.0,192.21 73.5,192.67 73.8,192.47 74.0,192.51 74.0,192.91 74.3,193.25 74.5,193.11 74.5,193.07 74.8,193.38 75.0,193.26 75.0,192.87 75.3,192.73 75.5,193.10 75.5,193.34 75.8,193.11 76.0,193.46 76.0,193.85 76.3,193.55 76.5,193.06 76.5,193.04 76.8,193.16 77.0,192.88 77.0,192.01 77.3,190.48 77.5,190.10 77.5,190.96 77.8,190.50 78.0,191.17 78.0,191.13 78.3,191.76 78.5,192.41 78.5,192.83 78.8,193.52 79.0,193.92 79.0,194.69 79.3,195.39 79.5,194.80 79.5,194.62 79.8,195.17 80.0,194.89 80.0,194.67 80.3,195.53 80.5,195.84 81.0,196.16 81.5,196.82 82.0,196.56 82.5,196.17 83.0,196.26 83.5,196.18 84.0,196.43 84.5,196.87 85.0,196.89 85.5,197.29 86.0,198.09 86.5,198.32 87.0,198.23 87.5,198.24 88.0,198.48 88.5,198.69 89.0,198.79 89.5,198.81 89.6,198.27 89.8,197.85 90.0,197.79 90.1,198.15 90.3,198.90 90.5,199.06 90.6,198.59 90.8,198.43 91.0,198.38 91.1,198.11 91.3,198.15 91.5,198.23 91.6,198.15 91.8,198.53 92.0,198.63 92.1,198.17 92.3,197.41 92.5,197.47 92.6,197.75 92.8,196.92 93.0,196.69 93.1,196.32 93.3,194.62 93.5,193.93 93.6,194.32 93.8,195.71 94.0,195.68 94.1,196.15 94.3,197.73 94.5,198.62 94.6,198.99 94.8,199.34 95.0,199.33 95.1,199.71 95.3,200.46 95.5,199.82 95.6,199.18 95.8,199.78 96.0,200.62 96.1,201.00 96.5,200.75 97.0,200.73 97.5,201.36 98.0,201.68 98.5,201.60 99.0,201.76 99.5,201.76 100.0,201.58 100.5,201.71 101.0,201.75 101.5,201.94 102.0,202.25 102.5,202.32 103.0,202.92 103.5,203.29 104.0,202.90 104.5,202.72 105.0,203.10 105.5,203.67 106.0,203.98 106.5,204.14 107.0,204.17 107.5,204.01 108.0,203.80 108.5,203.83 109.0,204.36 109.5,204.56 110.0,204.63 110.5,205.12 111.0,204.67 111.5,203.89 112.0,204.11 112.5,204.64 113.0,205.65 113.5,206.17 114.0,205.49 114.5,205.16 115.0,205.34 115.5,205.63 116.0,206.04 116.5,205.98 117.0,205.79 117.5,205.93 118.0,205.76 118.5,205.98 119.0,206.52 119.5,206.27 120.0,205.68 120.5,205.57 121.0,205.85 121.5,206.35 122.0,206.49 122.5,206.20 123.0,206.50 123.5,206.95 124.0,207.02 124.5,207.25 125.0,207.52 125.5,207.47 126.0,207.44 126.5,207.71 127.0,207.51 127.5,207.03 128.0,207.32 128.5,207.42 129.0,207.07 129.5,206.72 130.0,206.61 130.5,207.01 131.0,207.48 131.5,207.57 132.0,207.67 132.5,208.24 133.0,208.32 133.5,207.89 134.0,207.67 134.5,207.55 135.0,207.57 135.5,207.89 136.0,208.22 136.5,208.08 137.0,207.84 137.5,207.97 138.0,208.19 138.5,208.82 139.0,209.47 139.5,209.19 140.0,208.39 140.5,207.80 141.0,207.62 141.5,208.04 142.0,208.65 142.5,208.73 143.0,208.66 143.2,208.71 143.4,209.11 143.5,209.35 143.7,208.89 143.9,208.55 144.0,208.76 144.2,208.96 144.4,208.56 144.5,208.11 144.7,208.01 144.9,208.32 145.0,209.41 145.2,209.89 145.4,209.30 145.5,209.22 145.7,209.03 145.9,208.46 146.0,208.51 146.2,208.51 146.4,208.72 146.5,208.87 146.7,208.24 146.9,208.22 147.0,208.43 147.2,208.09 147.4,208.53 147.5,208.84 147.7,208.91 147.9,209.10 148.0,208.78 148.2,208.60 148.4,209.70 148.5,210.44 148.7,210.20 148.9,209.61 149.0,208.97 149.2,208.91 149.4,208.97 149.5,209.22 149.7,209.54 150.0,209.32 150.5,208.97 151.0,208.81 151.5,209.24 152.0,209.56 152.5,209.36 152.8,209.73 153.0,210.15 153.2,209.53 153.5,209.08 153.8,209.60 154.0,210.59 154.2,210.99 154.5,210.32 154.8,209.60 155.0,209.68 155.2,209.76 155.5,209.53 155.8,209.78 156.0,209.67 156.2,208.95 156.5,208.62 156.8,209.29 157.0,209.49 157.2,209.42 157.5,209.79 157.8,209.82 158.0,209.76 158.2,210.12 158.5,210.11 158.8,209.68 159.0,209.47 159.5,210.10 160.0,211.27 160.5,211.71 161.0,211.46 161.5,211.13 162.0,210.71 162.5,210.65 163.0,210.64 163.5,210.23 164.0,210.23 164.5,210.59 165.0,210.52 165.5,210.44 166.0,210.74 166.5,211.02 167.0,211.20 167.5,211.01 168.0,210.79 168.5,210.85 169.0,210.73 169.5,210.55 170.0,210.77 170.5,211.24 171.0,211.54 171.1,211.20 171.3,210.45 171.5,210.37 171.6,210.72 171.8,210.81 172.0,210.67 172.1,210.78 172.3,211.13 172.5,210.89 172.6,210.74 172.8,211.35 173.0,211.39 173.1,210.99 173.3,210.83 173.5,210.73 173.6,210.78 173.8,210.21 174.0,209.60 174.1,209.41 174.3,209.08 174.5,209.06 174.6,209.00 174.8,208.30 175.0,207.14 175.1,206.34 175.3,207.35 175.5,208.05 175.6,208.86 175.8,209.94 176.0,209.95 176.1,209.75 176.3,210.10 176.5,210.28 176.6,210.24 176.8,210.32 177.0,210.67 177.1,211.20 177.3,211.35 177.5,211.27 177.6,211.07 178.0,210.94 178.5,211.06 179.0,211.34 179.5,211.50 180.0,211.19 180.5,210.74 181.0,211.00 181.5,211.55 182.0,211.30 182.5,211.28 183.0,211.89 183.5,211.99 184.0,211.56 184.5,211.64 185.0,212.16 185.5,211.99 186.0,211.57 186.5,211.12 187.0,210.55 187.5,210.70 188.0,211.39 188.5,211.61 189.0,211.22 189.5,210.73 190.0,210.68 190.5,210.86 191.0,211.10 191.5,211.84 192.0,212.71 192.5,213.03 192.8,212.35 193.0,211.38 193.2,210.52 193.5,210.04 193.8,210.71 194.0,211.62 194.2,212.06 194.5,212.12 194.8,211.91 195.0,211.76 195.2,211.89 195.5,211.66 195.8,210.82 196.0,210.23 196.2,210.38 196.5,211.09 196.8,211.62 197.0,211.17 197.2,210.77 197.5,211.01 197.8,211.31 198.0,211.43 198.2,211.61 198.5,211.73 198.8,211.78 199.0,211.97 199.5,211.89 200.0,211.62 200.5,211.53 201.0,211.68 201.5,211.89 202.0,211.83 202.5,211.71 203.0,211.36 203.5,211.27 204.0,211.60 204.5,211.63 205.0,211.87 205.5,211.71 206.0,211.02 206.5,210.98 207.0,211.22 207.5,211.12 208.0,211.29 208.5,211.76 209.0,211.87 209.5,211.77 210.0,211.72 210.5,211.64 211.0,211.52 211.5,211.71 212.0,211.98 212.5,211.80 213.0,211.39 213.5,211.30 214.0,211.68 214.5,211.87 215.0,211.59 215.5,211.53 216.0,212.29 216.5,212.74 217.0,212.18 217.5,211.91 218.0,211.49 218.3,210.90 218.5,211.20 218.6,211.78 218.8,212.11 219.0,211.78 219.1,211.39 219.3,211.57 219.5,211.68 219.6,211.57 219.8,211.38 220.0,211.20 220.1,211.56 220.3,212.37 220.5,212.74 220.6,212.39 220.8,212.08 221.0,212.22 221.1,212.43 221.3,212.39 221.5,211.93 221.6,211.41 221.8,211.12 222.0,211.02 222.1,210.99 222.3,210.59 222.5,210.12 222.6,209.75 222.8,209.99 223.0,210.30 223.1,210.86 223.2,211.02 223.3,210.88 223.4,211.58 223.5,211.97 223.6,212.04 223.7,212.60 223.8,212.44 223.9,211.80 224.0,211.96 224.1,212.17 224.2,212.18 224.3,212.07 224.4,211.58 224.5,211.27 224.6,211.22 224.7,211.33 224.8,211.34 224.9,211.04 225.0,211.24 225.2,211.81 225.4,211.94 225.5,211.56 225.7,210.97 225.9,210.95 226.0,211.34 226.2,211.43 226.4,211.51 226.5,211.76 226.7,211.62 226.9,211.37 227.0,211.49 227.2,211.45 227.4,211.54 227.5,211.82 227.7,211.90 227.9,211.74 228.0,211.75 228.2,212.07 228.4,212.41 228.5,212.39 228.7,212.30 228.9,212.29 229.0,212.32 229.2,212.38 229.4,211.74 229.5,211.38 229.7,212.05 230.0,212.00 230.5,211.49 231.0,211.50 231.5,212.00 232.0,212.71 232.5,212.29 233.0,211.63 233.5,211.88 234.0,212.37 234.5,212.52 235.0,211.63 235.5,211.08 236.0,211.67 236.5,211.95 237.0,211.54 237.5,211.39 238.0,212.28 238.5,212.58 239.0,212.07 239.5,212.24 240.0,212.74 240.5,213.17 241.0,212.91 241.5,212.58 242.0,212.86 242.5,212.70 243.0,212.44 243.5,212.52 244.0,212.09 244.5,212.12 245.0,212.89 245.5,212.69 246.0,212.35 246.5,212.33 247.0,211.86 247.5,211.77 248.0,212.15 248.5,212.45 249.0,212.89 249.5,213.12 250.0,212.93 250.5,213.05 251.0,212.98 251.5,212.64 252.0,212.63 252.5,212.85 253.0,213.29 253.5,213.39 254.0,212.89 254.5,212.60 255.0,212.76 255.5,213.01 256.0,213.28 256.5,213.15 257.0,213.09 257.5,213.61 258.0,213.64 258.5,213.47 259.0,213.65 259.5,213.46 260.0,213.30 260.5,213.33 261.0,213.17 261.5,213.21 262.0,213.73 262.5,214.45 263.0,214.46 263.5,214.18 264.0,214.27 264.5,214.12 265.0,213.93" stroke="#008000"/>
<path d="M25.0,141.00 25.5,141.39 26.0,141.76 26.5,141.61 27.0,141.59 27.5,142.00 28.0,142.16 28.5,141.99 29.0,142.11 29.5,142.88 30.0,143.51 30.5,143.78 31.0,144.17 31.5,144.44 32.0,144.56 32.5,144.71 33.0,144.81 33.5,145.17 34.0,145.74 34.5,145.89 35.0,145.96 35.5,146.39 36.0,146.70 36.5,146.96 37.0,147.39 37.5,147.56 38.0,147.62 38.5,148.22 39.0,148.85 39.5,148.99 40.0,149.40 40.5,150.00 41.0,150.20 41.5,150.27 42.0,150.67 42.5,151.27 43.0,151.66 43.5,151.74 44.0,152.07 44.5,152.82 45.0,153.36 45.5,153.50 46.0,153.72 46.5,154.19 47.0,154.72 47.5,155.07 48.0,155.32 48.5,155.82 49.0,156.26 49.5,156.62 50.0,157.18 50.4,157.53 50.5,157.57 50.6,157.60 50.9,157.61 51.0,157.81 51.1,158.11 51.4,158.34 51.5,158.30 51.6,157.96 51.9,157.94 52.0,158.32 52.1,158.74 52.4,158.98 52.5,158.70 52.6,157.08 52.9,153.84 53.0,152.11 53.1,149.81 53.4,145.95 53.5,144.07 53.6,140.98 53.9,136.02 54.0,134.00 54.1,130.74 54.4,125.31 54.5,127.30 54.6,130.88 54.9,137.37 55.0,139.90 55.1,143.08 55.4,148.27 55.5,150.15 55.6,153.03 55.9,157.48 56.0,158.89 56.1,159.84 56.4,160.11 56.5,160.26 56.6,160.37 56.9,160.38 57.0,160.26 57.5,160.95 58.0,161.55 58.5,161.57 59.0,161.82 59.5,162.40 60.0,162.79 60.5,162.78 61.0,162.77 61.5,163.06 62.0,163.21 62.5,163.49 63.0,163.95 63.5,164.26 64.0,164.85 64.5,165.41 65.0,165.38 65.5,165.19 66.0,165.10 66.5,165.16 67.0,165.36 67.5,165.58 68.0,165.77 68.5,166.05 69.0,166.30 69.5,166.35 70.0,166.39 70.5,166.73 71.0,167.25 71.5,167.63 72.0,167.97 72.5,168.11 73.0,168.11 73.5,168.13 73.8,168.27 74.0,168.76 74.0,168.79 74.3,168.38 74.5,168.26 74.5,168.26 74.8,168.14 75.0,168.34 75.0,168.70 75.3,168.72 75.5,168.72 75.5,168.76 75.8,168.68 76.0,168.68 76.0,168.63 76.3,168.31 76.5,167.92 76.5,167.91 76.8,167.25 77.0,166.46 77.0,166.19 77.3,164.75 77.5,163.50 77.5,163.02 77.8,161.54 78.0,163.11 78.0,163.48 78.3,164.89 78.5,166.10 78.5,166.31 78.8,167.51 79.0,168.47 79.0,168.48 79.3,169.10 79.5,169.80 79.5,169.89 79.8,169.63 80.0,169.41 80.0,169.27 80.3,169.53 80.5,169.91 81.0,169.96 81.5,169.87 82.0,170.21 82.5,170.57 83.0,170.45 83.5,170.48 84.0,170.82 84.5,170.87 85.0,170.71 85.5,170.53 86.0,170.41 86.5,170.57 87.0,170.90 87.5,171.22 88.0,171.55 88.5,171.78 89.0,171.91 89.5,171.93 89.6,171.61 89.8,171.50 90.0,171.72 90.1,171.86 90.3,171.99 90.5,172.04 90.6,171.93 90.8,172.02 91.0,172.30 91.1,172.38 91.3,172.41 91.5,172.52 91.6,172.42 91.8,172.30 92.0,172.47 92.1,172.51 92.3,171.72 92.5,171.33 92.6,171.18 92.8,169.86 93.0,168.91 93.1,168.50 93.3,166.91 93.5,165.74 93.6,165.19 93.8,166.91 94.0,167.82 94.1,168.48 94.3,169.98 94.5,170.47 94.6,170.86 94.8,172.20 95.0,172.90 95.1,173.03 95.3,173.29 95.5,173.51 95.6,173.77 95.8,173.76 96.0,173.48 96.1,173.46 96.5,173.49 97.0,173.40 97.5,173.76 98.0,174.17 98.5,174.12 99.0,174.17 99.5,174.58 100.0,174.85 100.5,174.78 101.0,174.58 101.5,174.74 102.0,174.94 102.5,174.79 103.0,174.83 103.5,175.29 104.0,175.40 104.5,174.85 105.0,174.48 105.5,174.68 106.0,175.04 106.5,175.41 107.0,175.64 107.5,175.57 108.0,175.54 108.5,175.61 109.0,175.64 109.5,175.72 110.0,176.10 110.5,176.58 111.0,176.45 111.5,175.98 112.0,175.91 112.5,175.95 113.0,175.93 113.5,176.06 114.0,176.38 114.5,176.64 115.0,176.57 115.5,176.38 116.0,176.31 116.5,176.47 117.0,176.76 117.5,177.04 118.0,177.18 118.5,177.19 119.0,177.34 119.5,177.38 120.0,177.11 120.5,176.82 121.0,177.02 121.5,177.63 122.0,177.90 122.5,177.84 123.0,177.77 123.5,177.65 124.0,177.57 124.5,177.73 125.0,178.02 125.5,178.06 126.0,177.92 126.5,177.98 127.0,178.18 127.5,178.15 128.0,178.20 128.5,178.50 129.0,178.49 129.5,178.49 130.0,178.76 130.5,178.76 131.0,178.60 131.5,178.50 132.0,178.33 132.5,178.15 133.0,178.26 133.5,178.53 134.0,178.56 134.5,178.67 135.0,178.66 135.5,178.60 136.0,178.84 136.5,179.10 137.0,179.38 137.5,179.56 138.0,179.50 138.5,179.37 139.0,179.31 139.5,179.42 140.0,179.44 140.5,179.35 141.0,179.42 141.5,179.54 142.0,179.67 142.5,179.69 143.0,179.56 143.2,179.59 143.4,179.64 143.5,179.41 143.7,179.62 143.9,179.76 144.0,179.33 144.2,179.46 144.4,179.72 144.5,179.82 144.7,179.93 144.9,179.73 145.0,180.03 145.2,180.40 145.4,180.13 145.5,179.87 145.7,179.65 145.9,179.45 146.0,179.44 146.2,179.13 146.4,178.97 146.5,179.04 146.7,178.58 146.9,178.25 147.0,178.21 147.2,177.96 147.4,178.59 147.5,178.56 147.7,178.54 147.9,178.92 148.0,178.99 148.2,179.26 148.4,179.60 148.5,179.73 148.7,179.98 148.9,180.15 149.0,180.24 149.2,180.36 149.4,180.32 149.5,180.14 149.7,179.97 150.0,180.05 150.5,180.41 151.0,180.82 151.5,181.04 152.0,180.93 152.5,180.63 152.8,180.51 153.0,180.55 153.2,180.69 153.5,180.91 153.8,180.78 154.0,180.40 154.2,180.46 154.5,180.78 154.8,180.64 155.0,180.37 155.2,180.17 155.5,179.66 155.8,179.10 156.0,178.46 156.2,177.93 156.5,177.64 156.8,178.11 157.0,178.54 157.2,179.21 157.5,179.84 157.8,180.22 158.0,180.29 158.2,180.35 158.5,180.48 158.8,180.57 159.0,180.82 159.5,181.02 160.0,181.19 160.5,181.45 161.0,181.39 161.5,181.24 162.0,181.15 162.5,181.18 163.0,181.42 163.5,181.35 164.0,181.14 164.5,181.33 165.0,181.53 165.5,181.53 166.0,181.33 166.5,180.96 167.0,181.12 167.5,181.59 168.0,181.42 168.5,181.12 169.0,181.25 169.5,181.15 170.0,180.75 170.5,180.59 171.0,180.88 171.1,181.29 171.3,181.39 171.5,181.37 171.6,181.49 171.8,181.34 172.0,181.00 172.1,181.04 172.3,181.07 172.5,180.99 172.6,181.13 172.8,181.25 173.0,181.13 173.1,180.97 173.3,181.11 173.5,181.19 173.6,180.59 173.8,179.82 174.0,179.81 174.1,179.78 174.3,178.86 174.5,178.23 174.6,177.96 174.8,176.85 175.0,176.08 175.1,175.83 175.3,177.02 175.5,177.80 175.6,178.17 175.8,179.01 176.0,179.53 176.1,179.84 176.3,180.35 176.5,180.30 176.6,180.47 176.8,181.10 177.0,181.16 177.1,181.23 177.3,181.38 177.5,181.35 177.6,181.51 178.0,181.53 178.5,181.31 179.0,181.77 179.5,182.19 180.0,181.89 180.5,181.75 181.0,182.02 181.5,182.03 182.0,181.68 182.5,181.62 183.0,181.78 183.5,181.87 184.0,181.93 184.5,181.89 185.0,181.78 185.5,181.71 186.0,181.62 186.5,181.61 187.0,181.73 187.5,181.69 188.0,181.76 188.5,182.05 189.0,181.87 189.5,181.70 190.0,181.90 190.5,181.91 191.0,181.93 191.5,181.98 192.0,181.98 192.5,181.92 192.8,181.83 193.0,182.08 193.2,182.11 193.5,181.68 193.8,181.75 194.0,181.91 194.2,181.61 194.5,181.71 194.8,182.05 195.0,182.01 195.2,181.94 195.5,181.65 195.8,181.23 196.0,181.05 196.2,180.93 196.5,180.74 196.8,180.87 197.0,180.99 197.2,181.32 197.5,181.72 197.8,181.74 198.0,181.52 198.2,181.64 198.5,181.86 198.8,181.84 199.0,181.74 199.5,181.74 200.0,181.90 200.5,182.17 201.0,182.27 201.5,182.34 202.0,182.45 202.5,182.55 203.0,182.78 203.5,182.62 204.0,182.21 204.5,181.73 205.0,181.43 205.5,181.77 206.0,182.28 206.5,182.34 207.0,182.19 207.5,182.30 208.0,182.30 208.5,181.95 209.0,181.67 209.5,181.83 210.0,182.11 210.5,182.21 211.0,182.08 211.5,181.98 212.0,182.26 212.5,182.41 213.0,182.41 213.5,182.49 214.0,182.44 214.5,182.10 215.0,181.72 215.5,181.85 216.0,182.34 216.5,182.42 217.0,182.19 217.5,182.07 218.0,182.11 218.3,182.12 218.5,182.01 218.6,182.19 218.8,182.53 219.0,182.34 219.1,181.91 219.3,181.75 219.5,181.93 219.6,182.28 219.8,182.33 220.0,182.17 220.1,182.09 220.3,181.95 220.5,181.96 220.6,182.25 220.8,182.39 221.0,182.26 221.1,181.84 221.3,181.53 221.5,181.49 221.6,181.20 221.8,180.61 222.0,180.45 222.1,180.67 222.3,180.47 222.5,180.76 222.6,181.00 222.8,181.35 223.0,181.42 223.1,181.32 223.2,181.47 223.3,181.74 223.4,181.95 223.5,181.89 223.6,181.85 223.7,181.73 223.8,181.54 223.9,181.78 224.0,182.16 224.1,182.41 224.2,182.50 224.3,182.40 224.4,182.46 224.5,182.61 224.6,182.43 224.7,182.12 224.8,182.08 224.9,182.07 225.0,182.03 225.2,182.26 225.4,182.32 225.5,182.30 225.7,182.33 225.9,181.98 226.0,181.74 226.2,181.54 226.4,181.33 226.5,181.43 226.7,181.42 226.9,181.34 227.0,181.23 227.2,180.82 227.4,180.82 227.5,180.70 227.7,180.99 227.9,181.41 228.0,181.64 228.2,181.98 228.4,182.33 228.5,182.35 228.7,182.35 228.9,182.35 229.0,182.35 229.2,182.51 229.4,182.46 229.5,182.28 229.7,182.58 230.0,182.87 230.5,182.54 231.0,182.21 231.5,182.04 232.0,182.13 232.5,182.48 233.0,182.55 233.5,182.66 234.0,183.07 234.5,183.03 235.0,182.62 235.5,182.64 236.0,182.74 236.5,182.67 237.0,182.63 237.5,182.71 238.0,182.90 238.5,182.85 239.0,182.81 239.5,182.94 240.0,182.93 240.5,182.81 241.0,182.90 241.5,183.06 242.0,182.91 242.5,182.60 243.0,182.46 243.5,182.43 244.0,182.47 244.5,182.66 245.0,182.59 245.5,182.37 246.0,182.63 246.5,182.93 247.0,182.80 247.5,182.77 248.0,182.92 248.5,182.71 249.0,182.44 249.5,182.54 250.0,182.89 250.5,183.23 251.0,183.29 251.5,183.00 252.0,182.69 252.5,182.65 253.0,182.75 253.5,182.73 254.0,182.69 254.5,182.98 255.0,183.21 255.5,183.19 256.0,183.11 256.5,182.86 257.0,182.72 257.5,183.03 258.0,183.48 258.5,183.50 259.0,183.38 259.5,183.43 260.0,183.49 260.5,183.63 261.0,183.53 261.5,183.39 262.0,183.41 262.5,183.22 263.0,183.00 263.5,183.08 264.0,183.36 264.5,183.48 265.0,183.48" stroke="#ff8000"/>
<path d="M25.0,99.77 25.5,100.32 26.0,100.41 26.5,100.73 27.0,101.58 27.5,102.12 28.0,102.00 28.5,101.88 29.0,102.46 29.5,103.24 30.0,103.84 30.5,104.21 31.0,104.34 31.5,104.75 32.0,105.36 32.5,105.94 33.0,106.41 33.5,106.75 34.0,106.82 34.5,106.91 35.0,107.41 35.5,107.99 36.0,108.69 36.5,109.69 37.0,110.35 37.5,110.43 38.0,110.59 38.5,111.08 39.0,111.83 39.5,112.66 40.0,113.18 40.5,113.48 41.0,113.58 41.5,113.73 42.0,114.30 42.5,115.05 43.0,115.83 43.5,116.33 44.0,116.60 44.5,117.33 45.0,118.04 45.5,118.16 46.0,118.45 46.5,119.10 47.0,119.66 47.5,120.40 48.0,121.46 48.5,122.09 49.0,122.20 49.5,122.80 50.0,123.55 50.4,123.88 50.5,123.90 50.6,124.13 50.9,124.42 51.0,124.33 51.1,124.32 51.4,124.52 51.5,124.57 51.6,124.72 51.9,124.42 52.0,123.66 52.1,122.36 52.4,119.92 52.5,118.67 52.6,117.00 52.9,114.30 53.0,113.29 53.1,111.33 53.4,108.05 53.5,107.01 53.6,104.88 53.9,101.17 54.0,100.07 54.1,97.88 54.4,94.25 54.5,96.68 54.6,99.93 54.9,105.68 55.0,108.11 55.1,111.02 55.4,116.09 55.5,118.12 55.6,120.60 55.9,124.65 56.0,126.48 56.1,127.68 56.4,127.49 56.5,127.48 56.6,127.84 56.9,127.85 57.0,127.74 57.5,128.34 58.0,128.88 58.5,129.36 59.0,129.90 59.5,130.21 60.0,130.36 60.5,130.42 61.0,130.51 61.5,130.97 62.0,131.46 62.5,131.76 63.0,132.05 63.5,132.53 64.0,133.44 64.5,133.91 65.0,133.78 65.5,133.90 66.0,134.32 66.5,134.80 67.0,135.02 67.5,135.07 68.0,135.28 68.5,135.46 69.0,135.70 69.5,136.06 70.0,136.33 70.5,136.67 71.0,137.08 71.5,137.36 72.0,137.55 72.5,137.64 73.0,137.67 73.5,137.89 73.8,138.03 74.0,138.07 74.0,138.22 74.3,138.12 74.5,137.83 74.5,137.84 74.8,138.07 75.0,138.17 75.0,137.85 75.3,137.66 75.5,138.08 75.5,138.46 75.8,138.37 76.0,138.31 76.0,138.17 76.3,137.75 76.5,137.74 76.5,137.96 76.8,137.37 77.0,136.75 77.0,136.44 77.3,135.36 77.5,134.57 77.5,134.68 77.8,133.89 78.0,134.74 78.0,134.67 78.3,135.73 78.5,136.84 78.5,137.29 78.8,137.99 79.0,138.53 79.0,138.88 79.3,139.86 79.5,140.23 79.5,139.84 79.8,140.16 80.0,140.46 80.0,140.13 80.3,140.26 80.5,140.83 81.0,141.13 81.5,140.74 82.0,140.74 82.5,141.52 83.0,141.89 83.5,141.40 84.0,141.29 84.5,141.89 85.0,142.23 85.5,142.33 86.0,142.28 86.5,142.16 87.0,142.45 87.5,143.01 88.0,142.89 88.5,142.24 89.0,142.52 89.5,143.16 89.6,142.86 89.8,142.55 90.0,142.78 90.1,142.94 90.3,142.92 90.5,142.86 90.6,142.85 90.8,142.97 91.0,143.03 91.1,142.92 91.3,142.95 91.5,143.24 91.6,143.51 91.8,143.41 92.0,143.13 92.1,143.06 92.3,142.64 92.5,142.29 92.6,142.06 92.8,141.30 93.0,140.52 93.1,139.60 93.3,138.26 93.5,137.74 93.6,137.23 93.8,138.24 94.0,138.59 94.1,139.13 94.3,140.93 94.5,141.98 94.6,142.19 94.8,142.85 95.0,143.40 95.1,143.66 95.3,144.10 95.5,144.14 95.6,143.91 95.8,143.74 96.0,143.61 96.1,143.64 96.5,144.02 97.0,144.64 97.5,145.16 98.0,145.47 98.5,145.53 99.0,145.54 99.5,145.76 100.0,146.00 100.5,146.28 101.0,146.32 101.5,146.23 102.0,146.47 102.5,146.70 103.0,146.90 103.5,147.40 104.0,147.62 104.5,147.34 105.0,146.97 105.5,146.89 106.0,147.26 106.5,147.36 107.0,147.31 107.5,147.87 108.0,148.20 108.5,148.07 109.0,148.03 109.5,148.26 110.0,148.45 110.5,148.36 111.0,148.77 111.5,149.35 112.0,149.32 112.5,149.22 113.0,149.10 113.5,149.01 114.0,149.33 114.5,149.50 115.0,149.47 115.5,149.85 116.0,150.33 116.5,150.16 117.0,149.65 117.5,149.49 118.0,149.84 118.5,150.47 119.0,150.80 119.5,150.66 120.0,150.34 120.5,150.32 121.0,150.69 121.5,150.82 122.0,150.80 122.5,151.09 123.0,151.38 123.5,151.27 124.0,150.86 124.5,150.76 125.0,151.23 125.5,151.61 126.0,151.63 126.5,151.59 127.0,151.77 127.5,152.09 128.0,152.18 128.5,152.08 129.0,151.97 129.5,152.10 130.0,152.28 130.5,152.14 131.0,152.13 131.5,152.61 132.0,153.06 132.5,153.24 133.0,153.31 133.5,153.12 134.0,152.81 134.5,152.69 135.0,153.08 135.5,153.61 136.0,153.70 136.5,153.72 137.0,153.73 137.5,153.58 138.0,153.53 138.5,153.71 139.0,153.91 139.5,153.98 140.0,153.96 140.5,153.81 141.0,153.65 141.5,153.62 142.0,153.80 142.5,153.85 143.0,153.59 143.2,154.01 143.4,154.58 143.5,154.13 143.7,153.74 143.9,154.10 144.0,154.39 144.2,154.30 144.4,154.27 144.5,154.18 144.7,154.45 144.9,154.90 145.0,154.49 145.2,153.97 145.4,153.97 145.5,154.17 145.7,154.23 145.9,154.08 146.0,153.73 146.2,153.32 146.4,153.25 146.5,153.23 146.7,152.75 146.9,152.24 147.0,152.24 147.2,152.14 147.4,152.49 147.5,152.48 147.7,152.98 147.9,153.37 148.0,153.19 148.2,153.37 148.4,153.86 148.5,153.89 148.7,153.70 148.9,153.81 149.0,153.93 149.2,154.30 149.4,154.63 149.5,154.52 149.7,154.43 150.0,154.66 150.5,155.16 151.0,155.33 151.5,155.00 152.0,154.49 152.5,154.55 152.8,154.99 153.0,154.95 153.2,154.87 153.5,154.83 153.8,154.77 154.0,155.00 154.2,155.13 154.5,155.02 154.8,154.85 155.0,154.66 155.2,154.45 155.5,154.39 155.8,154.21 156.0,153.68 156.2,153.08 156.5,152.14 156.8,152.31 157.0,153.17 157.2,153.88 157.5,154.23 157.8,154.42 158.0,154.52 158.2,154.97 158.5,155.60 158.8,155.72 159.0,155.30 159.5,155.33 160.0,155.64 160.5,155.77 161.0,156.00 161.5,155.79 162.0,155.57 162.5,156.04 163.0,156.09 163.5,155.80 164.0,155.96 164.5,156.12 165.0,156.12 165.5,155.75 166.0,155.50 166.5,155.94 167.0,156.47 167.5,156.79 168.0,156.74 168.5,156.33 169.0,155.95 169.5,155.81 170.0,155.77 170.5,155.75 171.0,155.54 171.1,155.38 171.3,155.76 171.5,156.37 171.6,156.77 171.8,156.48 172.0,156.07 172.1,155.95 172.3,155.71 172.5,155.47 172.6,155.64 172.8,156.19 173.0,156.15 173.1,155.73 173.3,155.72 173.5,155.82 173.6,155.63 173.8,154.82 174.0,154.11 174.1,153.80 174.3,153.27 174.5,152.80 174.6,152.04 174.8,151.02 175.0,150.67 175.1,150.27 175.3,151.46 175.5,152.20 175.6,152.77 175.8,153.90 176.0,154.28 176.1,154.29 176.3,154.63 176.5,155.02 176.6,155.71 176.8,156.51 177.0,156.87 177.1,156.88 177.3,156.53 177.5,156.37 177.6,156.45 178.0,156.34 178.5,156.12 179.0,156.15 179.5,156.31 180.0,156.27 180.5,156.20 181.0,156.25 181.5,156.40 182.0,156.43 182.5,156.35 183.0,156.15 183.5,156.35 184.0,156.67 184.5,156.51 185.0,156.43 185.5,156.20 186.0,156.02 186.5,156.48 187.0,156.66 187.5,156.52 188.0,156.60 188.5,156.46 189.0,156.38 189.5,156.54 190.0,156.89 190.5,157.08 191.0,156.80 191.5,156.94 192.0,156.93 192.5,156.27 192.8,156.25 193.0,156.73 193.2,156.87 193.5,157.06 193.8,157.17 194.0,156.80 194.2,156.23 194.5,156.05 194.8,156.33 195.0,156.42 195.2,156.39 195.5,156.10 195.8,155.81 196.0,156.03 196.2,155.93 196.5,155.23 196.8,155.11 197.0,155.35 197.2,155.73 197.5,155.94 197.8,156.21 198.0,156.70 198.2,157.02 198.5,157.05 198.8,157.13 199.0,157.35 199.5,156.97 200.0,156.39 200.5,156.64 201.0,157.20 201.5,157.39 202.0,157.23 202.5,157.05 203.0,157.14 203.5,157.30 204.0,157.18 204.5,157.00 205.0,157.13 205.5,157.31 206.0,157.07 206.5,156.95 207.0,157.24 207.5,157.34 208.0,157.45 208.5,157.71 209.0,157.91 209.5,157.78 210.0,157.42 210.5,157.19 211.0,157.35 211.5,157.80 212.0,158.00 212.5,157.88 213.0,157.36 213.5,157.17 214.0,157.68 214.5,157.79 215.0,157.62 215.5,157.69 216.0,157.82 216.5,157.61 217.0,157.41 217.5,157.62 218.0,157.56 218.3,157.65 218.5,158.11 218.6,158.03 218.8,157.42 219.0,157.14 219.1,157.50 219.3,157.77 219.5,157.52 219.6,157.21 219.8,157.12 220.0,157.24 220.1,157.62 220.3,157.98 220.5,157.86 220.6,157.55 220.8,157.51 221.0,157.47 221.1,157.25 221.3,157.32 221.5,157.53 221.6,157.37 221.8,156.90 222.0,156.52 222.1,156.20 222.3,155.78 222.5,156.34 222.6,157.03 222.8,157.55 223.0,157.57 223.1,157.30 223.2,157.13 223.3,157.02 223.4,157.26 223.5,157.37 223.6,157.36 223.7,157.47 223.8,157.16 223.9,156.89 224.0,156.92 224.1,156.91 224.2,157.26 224.3,157.76 224.4,157.80 224.5,157.86 224.6,158.16 224.7,158.09 224.8,157.89 224.9,158.01 225.0,157.96 225.2,157.80 225.4,157.60 225.5,157.25 225.7,157.20 225.9,157.43 226.0,157.55 226.2,157.31 226.4,157.22 226.5,157.54 226.7,157.56 226.9,157.32 227.0,157.12 227.2,156.61 227.4,156.72 227.5,156.85 227.7,156.92 227.9,157.25 228.0,157.57 228.2,157.42 228.4,157.33 228.5,157.79 228.7,158.19 228.9,158.15 229.0,158.02 229.2,157.78 229.4,157.54 229.5,157.56 229.7,157.92 230.0,158.13 230.5,157.99 231.0,158.00 231.5,157.80 232.0,157.80 232.5,158.15 233.0,158.21 233.5,157.86 234.0,157.60 234.5,157.70 235.0,158.07 235.5,158.45 236.0,158.27 236.5,157.87 237.0,157.68 237.5,157.59 238.0,157.77 238.5,158.09 239.0,158.18 239.5,158.09 240.0,157.91 240.5,158.04 241.0,158.24 241.5,157.81 242.0,157.61 242.5,157.88 243.0,157.87 243.5,158.04 244.0,158.26 244.5,158.23 245.0,158.26 245.5,158.37 246.0,158.71 246.5,158.73 247.0,158.31 247.5,158.09 248.0,158.11 248.5,158.43 249.0,158.49 249.5,158.27 250.0,158.28 250.5,158.09 251.0,157.83 251.5,158.16 252.0,158.78 252.5,158.79 253.0,158.49 253.5,158.52 254.0,158.46 254.5,158.17 255.0,158.60 255.5,159.11 256.0,158.80 256.5,158.68 257.0,158.73 257.5,158.57 258.0,158.73 258.5,158.99 259.0,158.96 259.5,158.84 260.0,158.78 260.5,158.85 261.0,159.06 261.5,159.31 262.0,159.20 262.5,158.61 263.0,158.36 263.5,158.90 264.0,159.12 264.5,158.59 265.0,158.39" stroke="#8000ff"/>
<path d="M25.0,62.81 25.5,64.61 26.0,65.93 26.5,66.90 27.0,67.98 27.5,68.75 28.0,69.02 28.5,69.20 29.0,69.74 29.5,70.55 30.0,70.87 30.5,70.63 31.0,70.55 31.5,71.11 32.0,71.84 32.5,72.36 33.0,73.02 33.5,73.56 34.0,74.01 34.5,74.56 35.0,74.87 35.5,75.05 36.0,75.87 36.5,76.69 37.0,76.69 37.5,77.12 38.0,77.98 38.5,78.27 39.0,78.36 39.5,78.89 40.0,79.90 40.5,80.84 41.0,81.33 41.5,81.66 42.0,81.96 42.5,82.21 43.0,82.65 43.5,83.22 44.0,83.95 44.5,84.81 45.0,85.24 45.5,85.58 46.0,86.25 46.5,86.64 47.0,87.02 47.5,87.68 48.0,88.31 48.5,89.22 49.0,90.02 49.5,90.55 50.0,91.00 50.4,91.20 50.5,91.03 50.6,90.97 50.9,91.20 51.0,91.27 51.1,91.38 51.4,91.69 51.5,91.60 51.6,91.21 51.9,91.25 52.0,91.76 52.1,92.18 52.4,90.57 52.5,89.58 52.6,87.67 52.9,83.71 53.0,81.71 53.1,78.84 53.4,74.29 53.5,72.64 53.6,69.96 53.9,64.93 54.0,62.76 54.1,59.67 54.4,54.70 54.5,57.46 54.6,61.61 54.9,68.44 55.0,70.86 55.1,74.78 55.4,81.37 55.5,83.82 55.6,86.93 55.9,92.08 56.0,94.03 56.1,94.99 56.4,95.25 56.5,95.45 56.6,95.58 56.9,96.41 57.0,97.11 57.5,97.91 58.0,98.47 58.5,98.99 59.0,99.45 59.5,99.87 60.0,100.00 60.5,100.17 61.0,100.69 61.5,101.20 62.0,101.50 62.5,101.46 63.0,101.54 63.5,102.55 64.0,103.51 64.5,103.51 65.0,103.18 65.5,103.28 66.0,103.66 66.5,104.00 67.0,104.40 67.5,104.75 68.0,105.29 68.5,105.37 69.0,105.04 69.5,105.30 70.0,105.46 70.5,105.44 71.0,105.81 71.5,106.38 72.0,106.61 72.5,106.60 73.0,107.25 73.5,107.83 73.8,107.64 74.0,107.40 74.0,107.09 74.3,106.98 74.5,107.31 74.5,107.56 74.8,107.93 75.0,108.25 75.0,107.96 75.3,107.81 75.5,107.69 75.5,107.08 75.8,106.85 76.0,107.04 76.0,107.25 76.3,107.02 76.5,106.58 76.5,106.78 76.8,105.76 77.0,104.26 77.0,103.67 77.3,102.16 77.5,100.66 77.5,100.00 77.8,98.33 78.0,100.22 78.0,100.74 78.3,103.06 78.5,104.44 78.5,104.33 78.8,105.87 79.0,107.09 79.0,107.40 79.3,108.51 79.5,109.27 79.5,109.53 79.8,109.64 80.0,109.35 80.0,109.31 80.3,109.88 80.5,110.10 81.0,110.35 81.5,110.52 82.0,110.78 82.5,111.07 83.0,111.10 83.5,110.92 84.0,110.72 84.5,110.95 85.0,111.11 85.5,111.15 86.0,111.40 86.5,111.85 87.0,111.93 87.5,111.57 88.0,111.66 88.5,112.12 89.0,112.46 89.5,112.54 89.6,112.47 89.8,112.56 90.0,112.82 90.1,112.89 90.3,112.66 90.5,112.42 90.6,112.33 90.8,112.71 91.0,112.92 91.1,112.85 91.3,112.69 91.5,112.07 91.6,111.75 91.8,112.00 92.0,112.12 92.1,112.08 92.3,111.07 92.5,110.35 92.6,109.78 92.8,107.66 93.0,106.06 93.1,105.55 93.3,103.57 93.5,101.70 93.6,100.97 93.8,104.02 94.0,105.23 94.1,105.79 94.3,108.13 94.5,109.70 94.6,110.33 94.8,111.57 95.0,112.41 95.1,113.02 95.3,113.88 95.5,113.93 95.6,113.39 95.8,113.23 96.0,113.85 96.1,114.37 96.5,114.37 97.0,114.60 97.5,114.85 98.0,114.67 98.5,114.72 99.0,114.87 99.5,115.05 100.0,115.54 100.5,115.81 101.0,115.59 101.5,115.42 102.0,115.67 102.5,116.16 103.0,116.50 103.5,116.59 104.0,116.57 104.5,116.92 105.0,117.40 105.5,117.51 106.0,117.70 106.5,117.81 107.0,117.53 107.5,117.57 108.0,118.13 108.5,118.51 109.0,118.35 109.5,117.82 110.0,117.58 110.5,117.80 111.0,118.48 111.5,119.25 112.0,119.43 112.5,119.35 113.0,119.52 113.5,119.70 114.0,119.71 114.5,119.85 115.0,119.68 115.5,119.37 116.0,119.90 116.5,120.51 117.0,120.42 117.5,120.30 118.0,120.34 118.5,120.64 119.0,121.02 119.5,120.87 120.0,120.29 120.5,120.07 121.0,120.40 121.5,120.49 122.0,120.81 122.5,121.64 123.0,121.72 123.5,121.47 124.0,121.92 124.5,122.13 125.0,122.05 125.5,122.07 126.0,121.80 126.5,121.66 127.0,121.80 127.5,122.23 128.0,122.62 128.5,122.41 129.0,122.28 129.5,122.62 130.0,122.98 130.5,123.25 131.0,123.38 131.5,123.12 132.0,122.94 132.5,123.24 133.0,123.44 133.5,123.49 134.0,123.98 134.5,124.31 135.0,124.01 135.5,124.10 136.0,124.33 136.5,123.99 137.0,123.68 137.5,123.84 138.0,124.28 138.5,124.47 139.0,124.38 139.5,124.55 140.0,124.90 140.5,124.69 141.0,124.24 141.5,124.36 142.0,124.70 142.5,124.79 143.0,124.59 143.2,124.38 143.4,124.20 143.5,124.11 143.7,124.34 143.9,124.58 144.0,124.59 144.2,124.41 144.4,124.30 144.5,124.22 144.7,124.37 144.9,124.68 145.0,124.73 145.2,124.60 145.4,124.36 145.5,124.20 145.7,123.85 145.9,123.61 146.0,123.84 146.2,123.75 146.4,123.26 146.5,123.14 146.7,122.85 146.9,122.28 147.0,122.20 147.2,121.72 147.4,122.11 147.5,122.14 147.7,122.67 147.9,123.23 148.0,123.56 148.2,124.23 148.4,124.53 148.5,124.11 148.7,124.14 148.9,124.60 149.0,124.96 149.2,125.18 149.4,125.00 149.5,124.98 149.7,125.12 150.0,124.99 150.5,125.21 151.0,125.78 151.5,125.89 152.0,125.60 152.5,125.23 152.8,125.06 153.0,125.25 153.2,125.35 153.5,125.23 153.8,125.12 154.0,125.14 154.2,125.22 154.5,125.48 154.8,125.56 155.0,124.83 155.2,123.79 155.5,123.08 155.8,122.48 156.0,122.08 156.2,121.77 156.5,120.99 156.8,121.62 157.0,122.38 157.2,122.87 157.5,123.21 157.8,123.77 158.0,124.69 158.2,125.35 158.5,125.43 158.8,125.81 159.0,126.02 159.5,125.69 160.0,125.48 160.5,125.46 161.0,125.68 161.5,125.89 162.0,125.97 162.5,126.20 163.0,126.30 163.5,126.12 164.0,125.97 164.5,125.95 165.0,125.83 165.5,125.72 166.0,125.93 166.5,125.96 167.0,126.08 167.5,126.35 168.0,125.95 168.5,125.72 169.0,125.77 169.5,125.50 170.0,125.42 170.5,125.47 171.0,125.65 171.1,126.02 171.3,126.37 171.5,126.60 171.6,126.68 171.8,126.66 172.0,126.40 172.1,126.25 172.3,126.31 172.5,126.06 172.6,126.09 172.8,126.54 173.0,126.54 173.1,126.34 173.3,126.19 173.5,125.73 173.6,125.09 173.8,124.31 174.0,123.88 174.1,123.63 174.3,122.89 174.5,122.58 174.6,121.99 174.8,120.44 175.0,119.59 175.1,119.06 175.3,120.53 175.5,121.53 175.6,121.70 175.8,122.40 176.0,123.27 176.1,124.07 176.3,125.10 176.5,125.41 176.6,125.35 176.8,125.86 177.0,126.09 177.1,126.25 177.3,126.51 177.5,126.47 177.6,126.28 178.0,126.18 178.5,125.93 179.0,125.99 179.5,126.44 180.0,126.35 180.5,125.97 181.0,126.10 181.5,126.68 182.0,127.17 182.5,127.22 183.0,126.74 183.5,126.24 184.0,126.44 184.5,126.84 185.0,126.91 185.5,126.82 186.0,126.93 186.5,127.37 187.0,127.36 187.5,126.78 188.0,126.74 188.5,127.11 189.0,127.06 189.5,127.29 190.0,127.34 190.5,126.83 191.0,126.70 191.5,126.81 192.0,126.94 192.5,127.23 192.8,127.47 193.0,127.23 193.2,127.04 193.5,127.07 193.8,126.82 194.0,126.96 194.2,127.23 194.5,126.72 194.8,126.30 195.0,126.10 195.2,125.44 195.5,125.08 195.8,125.16 196.0,124.69 196.2,124.07 196.5,123.60 196.8,123.92 197.0,124.44 197.2,125.52 197.5,126.48 197.8,126.69 198.0,126.46 198.2,126.28 198.5,126.40 198.8,126.63 199.0,126.89 199.5,126.95 200.0,126.89 200.5,126.84 201.0,126.58 201.5,126.55 202.0,126.75 202.5,126.53 203.0,126.45 203.5,126.68 204.0,126.83 204.5,127.15 205.0,127.40 205.5,127.29 206.0,127.16 206.5,127.23 207.0,127.07 207.5,126.76 208.0,126.82 208.5,126.74 209.0,126.66 209.5,126.91 210.0,127.12 210.5,127.41 211.0,127.22 211.5,126.67 212.0,127.11 212.5,127.84 213.0,127.90 213.5,127.74 214.0,127.24 214.5,126.69 215.0,126.82 215.5,127.41 216.0,127.51 216.5,127.15 217.0,127.12 217.5,127.06 218.0,126.78 218.3,127.16 218.5,127.97 218.6,128.08 218.8,127.80 219.0,127.69 219.1,127.27 219.3,126.67 219.5,126.68 219.6,127.17 219.8,127.62 220.0,127.90 220.1,127.70 220.3,127.10 220.5,126.94 220.6,127.30 220.8,127.13 221.0,126.50 221.1,126.36 221.3,126.71 221.5,126.72 221.6,126.32 221.8,126.02 222.0,126.01 222.1,126.02 222.3,125.74 222.5,126.08 222.6,125.78 222.8,125.77 223.0,125.73 223.1,125.48 223.2,126.10 223.3,126.84 223.4,126.89 223.5,126.70 223.6,126.59 223.7,126.46 223.8,126.79 223.9,127.37 224.0,127.35 224.1,127.23 224.2,127.67 224.3,127.87 224.4,127.53 224.5,127.22 224.6,126.70 224.7,126.63 224.8,127.20 224.9,127.42 225.0,127.28 225.2,127.12 225.4,127.16 225.5,127.60 225.7,127.59 225.9,126.74 226.0,126.43 226.2,126.69 226.4,126.56 226.5,126.34 226.7,126.18 226.9,125.95 227.0,125.60 227.2,124.73 227.4,124.77 227.5,124.87 227.7,125.47 227.9,126.10 228.0,126.23 228.2,126.61 228.4,127.08 228.5,126.79 228.7,126.87 228.9,127.13 229.0,127.09 229.2,127.46 229.4,127.62 229.5,127.68 229.7,127.93 230.0,127.77 230.5,127.43 231.0,127.03 231.5,126.82 232.0,127.07 232.5,127.29 233.0,127.48 233.5,127.38 234.0,126.86 234.5,126.69 235.0,127.12 235.5,127.65 236.0,127.58 236.5,127.26 237.0,127.39 237.5,127.69 238.0,127.71 238.5,127.40 239.0,127.32 239.5,127.80 240.0,128.06 240.5,128.11 241.0,128.14 241.5,127.85 242.0,127.80 242.5,128.02 243.0,127.99 243.5,127.82 244.0,127.75 244.5,127.82 245.0,128.13 245.5,128.25 246.0,128.30 246.5,128.23 247.0,127.75 247.5,127.93 248.0,128.37 248.5,127.91 249.0,127.72 249.5,128.29 250.0,128.25 250.5,127.95 251.0,128.02 251.5,127.78 252.0,127.63 252.5,127.89 253.0,127.91 253.5,127.82 254.0,127.87 254.5,127.97 255.0,128.19 255.5,128.44 256.0,128.50 256.5,128.18 257.0,127.81 257.5,127.86 258.0,128.43 258.5,129.01 259.0,128.88 259.5,128.62 260.0,128.59 260.5,128.56 261.0,128.71 261.5,128.81 262.0,128.94 262.5,128.97 263.0,128.81 263.5,128.69 264.0,128.55 264.5,128.83 265.0,129.17" stroke="#ff00ff"/>
</g>
<g stroke="#555" stroke-width="1" stroke-dasharray="1.7 2.25">
<line x1="54.3" y1="54" x2="54.3" y2="285.8"/>
<line x1="77.9" y1="98.5" x2="77.9" y2="285.8"/>
<line x1="93.6" y1="101.5" x2="93.6" y2="285.8"/>
<line x1="147.3" y1="120.5" x2="147.3" y2="285.8"/>
<line x1="156.6" y1="121" x2="156.6" y2="285.8"/>
<line x1="175.2" y1="119.5" x2="175.2" y2="285.8"/>
<line x1="196.5" y1="125" x2="196.5" y2="285.8"/>
<line x1="222.4" y1="125.5" x2="222.4" y2="285.8"/>
<line x1="227.3" y1="125" x2="227.3" y2="285.8"/>
</g>
<g font-size="6" fill="#333" font-family="DejaVu Sans" class="pk">
<text transform="translate(56.1,53.5) rotate(-90)">(110)</text>
<text transform="translate(80.7,98.0) rotate(-90)">(301)</text>
<text transform="translate(96.2,101.0) rotate(-90)">(310)</text>
<text transform="translate(149.3,119.6) rotate(-90)">(411)</text>
<text transform="translate(159.2,120.4) rotate(-90)">(600)</text>
<text transform="translate(177.8,119.0) rotate(-90)">(020)</text>
<text transform="translate(198.7,124.3) rotate(-90)">(021)</text>
<text transform="translate(223.2,125.0) rotate(-90)">(321)</text>
<text transform="translate(230.1,124.3) rotate(-90)">(710)</text>
</g>
<line x1="25.0" y1="11.6" x2="25.0" y2="291.0" stroke="#9a9a9a" stroke-width="2"/>
<line x1="25.0" y1="12.4" x2="265.4" y2="12.4" stroke="#858585" stroke-width="1.7"/>
<line x1="265.4" y1="12.4" x2="265.4" y2="290.3" stroke="#707070" stroke-width="1.6"/>
<line x1="25.0" y1="290.3" x2="265.4" y2="290.3" stroke="#555" stroke-width="1.5"/>
<g stroke="#444" stroke-width="1">
<line x1="25.00" y1="290.3" x2="25.00" y2="293.8"/>
<line x1="49.04" y1="290.3" x2="49.04" y2="292.3"/>
<line x1="73.08" y1="290.3" x2="73.08" y2="293.8"/>
<line x1="97.12" y1="290.3" x2="97.12" y2="292.3"/>
<line x1="121.16" y1="290.3" x2="121.16" y2="293.8"/>
<line x1="145.20" y1="290.3" x2="145.20" y2="292.3"/>
<line x1="169.24" y1="290.3" x2="169.24" y2="293.8"/>
<line x1="193.28" y1="290.3" x2="193.28" y2="292.3"/>
<line x1="217.32" y1="290.3" x2="217.32" y2="293.8"/>
<line x1="241.36" y1="290.3" x2="241.36" y2="292.3"/>
<line x1="265.40" y1="290.3" x2="265.40" y2="293.8"/>
</g>
<g font-size="9.6" fill="#222" text-anchor="middle">
<text x="25.20" y="304">20</text>
<text x="73.28" y="304">30</text>
<text x="121.36" y="304">40</text>
<text x="169.44" y="304">50</text>
<text x="217.52" y="304">60</text>
<text x="265.60" y="304">70</text>
</g>
<g font-size="7.7" fill="#222">
<text x="179" y="20.0">Vanadium oxide thin film</text>
<text x="179" y="38.1">and annealed at:</text>
<line x1="178.3" y1="26.8" x2="195.8" y2="26.8" stroke="#000" stroke-width="1.3" opacity="0.75"/>
<text x="198" y="29.2">as-deposited</text>
<line x1="178.3" y1="45.2" x2="195.8" y2="45.2" stroke="#ff0000" stroke-width="1.3" opacity="0.75"/>
<text x="198" y="47.6">423 K</text>
<line x1="178.3" y1="54.4" x2="195.8" y2="54.4" stroke="#0000ff" stroke-width="1.3" opacity="0.75"/>
<text x="198" y="56.8">473 K</text>
<line x1="178.3" y1="63.6" x2="195.8" y2="63.6" stroke="#008000" stroke-width="1.3" opacity="0.75"/>
<text x="198" y="66.0">523 K</text>
<line x1="178.3" y1="72.8" x2="195.8" y2="72.8" stroke="#ff8000" stroke-width="1.3" opacity="0.75"/>
<text x="198" y="75.2">573 K</text>
<line x1="178.3" y1="82.0" x2="195.8" y2="82.0" stroke="#8000ff" stroke-width="1.3" opacity="0.75"/>
<text x="198" y="84.4">623 K</text>
<line x1="178.3" y1="90.9" x2="195.8" y2="90.9" stroke="#ff00ff" stroke-width="1.3" opacity="0.75"/>
<text x="198" y="93.3">673 K</text>
</g>
<text font-size="11.6" fill="#111" transform="translate(16.9,198.9) rotate(-90)">Intensity (arb. u.)</text>
<text font-size="11.9" fill="#111" x="145.3" y="319.8" text-anchor="middle">2θ (degrees)</text>
<text font-size="12" fill="#222" font-family="DejaVu Sans" x="4.2" y="14.6">(a)</text>
<text font-size="12" fill="#222" font-family="DejaVu Sans" x="269.2" y="14.6">(b)</text>
<path d="M329.1,234.7 329.8,234.9 330.5,235.0 331.2,235.2 331.9,235.4 332.6,235.6 333.3,235.8 334.0,236.0 334.7,236.1 335.4,236.3 336.1,236.5 336.8,236.6 337.5,236.8 338.2,237.0 338.9,237.1 339.6,237.3 340.3,237.5 341.0,237.6 341.7,237.8 342.4,238.0 343.1,238.1 343.8,238.3 344.5,238.5 345.2,238.6 345.9,238.8 346.6,238.9 347.3,239.1 348.0,239.3 348.7,239.4 349.4,239.6 350.1,239.8 350.8,240.0 351.5,240.1 352.2,240.3 352.9,240.5 353.6,240.7 354.3,240.9 355.0,241.0 355.7,241.2 356.4,241.4 357.1,241.6 357.8,241.8 358.5,242.0 359.2,242.2 359.9,242.4 360.6,242.5 361.3,242.7 362.0,242.9 362.7,243.1 363.4,243.2 364.1,243.4 364.8,243.6 365.5,243.7 366.2,243.9 366.9,244.0 367.6,244.2 368.3,244.3 369.0,244.5 369.7,244.6 370.4,244.7 371.1,244.8 371.8,244.9 372.5,245.0 373.2,245.1 373.9,245.2 374.6,245.2 375.3,245.3 376.0,245.3 376.7,245.4 377.4,245.4 378.1,245.4 378.8,245.4 379.5,245.3 380.2,245.3 380.9,245.2 381.6,245.1 382.3,244.9 383.0,244.7 383.7,244.5 384.4,244.3 385.1,244.0 385.8,243.7 386.5,243.3 387.2,242.9 387.9,242.4 388.6,241.9 389.3,241.3 390.0,240.7 390.7,240.0 391.4,239.3 392.1,238.5 392.8,237.7 393.5,236.9 394.2,236.0 394.9,235.0 395.6,234.0 396.3,233.0 397.0,232.0 397.7,230.9 398.4,229.7 399.1,228.6 399.8,227.4 400.5,226.1 401.2,224.8 401.9,223.5 402.6,222.1 403.3,220.6 404.0,219.1 404.7,217.6 405.4,216.0 406.1,214.3 406.8,212.6 407.5,210.8 408.2,208.9 408.9,207.0 409.6,205.0 410.3,203.0 411.0,200.9 411.7,198.8 412.4,196.5 413.1,194.3 413.8,191.9 414.5,189.6 415.2,187.1 415.9,184.7 416.6,182.1 417.3,179.5 418.0,176.9 418.7,174.2 419.4,171.5 420.1,168.8 420.8,166.0 421.5,163.2 422.2,160.3 422.9,157.5 423.6,154.6 424.3,151.7 425.0,148.8 425.7,145.9 426.4,142.9 427.1,140.0 427.8,137.1 428.5,134.2 429.2,131.4 429.9,128.6 430.6,125.8 431.3,123.1 432.0,120.4 432.7,117.8 433.4,115.2 434.1,112.7 434.8,110.3 435.5,107.9 436.2,105.5 436.9,103.2 437.6,101.0 438.3,98.8 439.0,96.7 439.7,94.6 440.4,92.6 441.1,90.7 441.8,88.8 442.5,86.9 443.2,85.1 443.9,83.4 444.6,81.7 445.3,80.1 446.0,78.6 446.7,77.1 447.4,75.7 448.1,74.3 448.8,73.0 449.5,71.7 450.2,70.5 450.9,69.4 451.6,68.4 452.3,67.4 453.0,66.4 453.7,65.5 454.4,64.7 455.1,64.0 455.8,63.3 456.5,62.6 457.2,62.1 457.9,61.5 458.6,61.1 459.3,60.6 460.0,60.3 460.7,59.9 461.4,59.6 462.1,59.4 462.8,59.2 463.5,59.0 464.2,58.9 464.9,58.8 465.6,58.7 466.3,58.7 467.0,58.7 467.7,58.7 468.4,58.7 469.1,58.8 469.8,58.9 470.5,59.0 471.2,59.1 471.9,59.2 472.6,59.3 473.3,59.5 474.0,59.7 474.7,59.8 475.4,60.0 476.1,60.2 476.8,60.3 477.5,60.5 478.2,60.7 478.9,60.8 479.6,61.0 480.3,61.1 481.0,61.3 481.7,61.4 482.4,61.5 483.1,61.6 483.8,61.7 484.5,61.8 485.2,61.9 485.9,61.9 486.6,62.0 487.3,62.0 488.0,62.1 488.7,62.1 489.4,62.2 490.1,62.2 490.8,62.2 491.5,62.2 492.2,62.3 492.9,62.3 493.6,62.3 494.3,62.3 495.0,62.3 495.7,62.3 496.4,62.3 497.1,62.3 497.8,62.3 498.5,62.3 499.2,62.3 499.9,62.3 500.6,62.2 501.3,62.2 502.0,62.2 502.7,62.2 503.4,62.2 504.1,62.2 504.8,62.2 505.5,62.2 506.2,62.2 506.9,62.2 507.6,62.3 508.3,62.3 509.0,62.3 509.7,62.3 510.4,62.4 511.1,62.4 511.8,62.5 512.5,62.5 513.2,62.6 513.9,62.7 514.6,62.7 515.3,62.8 516.0,62.9 516.7,63.0 517.4,63.1 518.1,63.2 518.3,63.3" fill="none" stroke="#222" stroke-width="1.1"/>
<g fill="#fff" stroke="#000" stroke-width="1.3">
<rect x="326.60" y="232.12" width="5.2" height="5.2"/>
<rect x="364.41" y="241.38" width="5.2" height="5.2"/>
<rect x="402.23" y="250.65" width="5.2" height="5.2"/>
<rect x="440.05" y="46.85" width="5.2" height="5.2"/>
<rect x="477.86" y="60.75" width="5.2" height="5.2"/>
<rect x="515.68" y="60.75" width="5.2" height="5.2"/>
</g>
<line x1="311.8" y1="11.6" x2="311.8" y2="291.0" stroke="#8a8a8a" stroke-width="2"/>
<line x1="311.8" y1="12.4" x2="538.7" y2="12.4" stroke="#858585" stroke-width="1.7"/>
<line x1="538.7" y1="12.4" x2="538.7" y2="290.3" stroke="#777" stroke-width="1.7"/>
<line x1="311.8" y1="290.3" x2="538.7" y2="290.3" stroke="#555" stroke-width="1.5"/>
<g stroke="#444" stroke-width="1">
<line x1="311.80" y1="290.3" x2="311.80" y2="293.8"/>
<line x1="330.71" y1="290.3" x2="330.71" y2="292.3"/>
<line x1="349.62" y1="290.3" x2="349.62" y2="293.8"/>
<line x1="368.53" y1="290.3" x2="368.53" y2="292.3"/>
<line x1="387.43" y1="290.3" x2="387.43" y2="293.8"/>
<line x1="406.34" y1="290.3" x2="406.34" y2="292.3"/>
<line x1="425.25" y1="290.3" x2="425.25" y2="293.8"/>
<line x1="444.16" y1="290.3" x2="444.16" y2="292.3"/>
<line x1="463.07" y1="290.3" x2="463.07" y2="293.8"/>
<line x1="481.98" y1="290.3" x2="481.98" y2="292.3"/>
<line x1="500.88" y1="290.3" x2="500.88" y2="293.8"/>
<line x1="519.79" y1="290.3" x2="519.79" y2="292.3"/>
<line x1="538.70" y1="290.3" x2="538.70" y2="293.8"/>
<line x1="311.8" y1="290.30" x2="308.5" y2="290.30"/>
<line x1="311.8" y1="267.14" x2="310.3" y2="267.14"/>
<line x1="311.8" y1="243.98" x2="308.5" y2="243.98"/>
<line x1="311.8" y1="220.82" x2="310.3" y2="220.82"/>
<line x1="311.8" y1="197.67" x2="308.5" y2="197.67"/>
<line x1="311.8" y1="174.51" x2="310.3" y2="174.51"/>
<line x1="311.8" y1="151.35" x2="308.5" y2="151.35"/>
<line x1="311.8" y1="128.19" x2="310.3" y2="128.19"/>
<line x1="311.8" y1="105.03" x2="308.5" y2="105.03"/>
<line x1="311.8" y1="81.87" x2="310.3" y2="81.87"/>
<line x1="311.8" y1="58.72" x2="308.5" y2="58.72"/>
<line x1="311.8" y1="35.56" x2="310.3" y2="35.56"/>
<line x1="311.8" y1="12.40" x2="308.5" y2="12.40"/>
</g>
<g font-size="9.0" fill="#222" text-anchor="middle">
<text x="311.80" y="303.4">400</text>
<text x="349.62" y="303.4">450</text>
<text x="387.43" y="303.4">500</text>
<text x="425.25" y="303.4">550</text>
<text x="463.07" y="303.4">600</text>
<text x="500.88" y="303.4">650</text>
<text x="538.70" y="303.4">700</text>
</g>
<g font-size="9.3" fill="#222" text-anchor="end">
<text x="306.4" y="292.90">22</text>
<text x="306.4" y="246.58">23</text>
<text x="306.4" y="200.27">24</text>
<text x="306.4" y="153.95">25</text>
<text x="306.4" y="107.63">26</text>
<text x="306.4" y="61.32">27</text>
<text x="306.4" y="15.00">28</text>
</g>
<line x1="316" y1="19.6" x2="334.7" y2="19.6" stroke="#222" stroke-width="1.1"/>
<rect x="322.9" y="17" width="5.2" height="5.2" fill="#fff" stroke="#000" stroke-width="1.3"/>
<text font-size="8.5" fill="#222" x="337.4" y="22.4" style="stroke-width:0.12px">V<tspan font-size="5.8" dy="2">2</tspan><tspan dy="-2">O</tspan><tspan font-size="5.8" dy="2">5</tspan><tspan dy="-2"> crystallite size</tspan></text>
<text font-size="10.9" fill="#111" x="425.8" y="318.2" text-anchor="middle">Annealing temperature (K)</text>
<text font-size="10.75" fill="#111" transform="translate(287.6,212.4) rotate(-90)">Crystallite size D<tspan font-size="7.0" dy="1.9">(110)</tspan><tspan dy="-1.9"> (nm)</tspan></text>
</svg>
</body></html>
